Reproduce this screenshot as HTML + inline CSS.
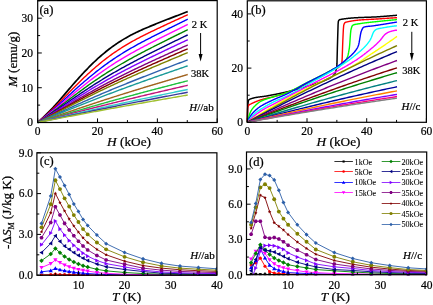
<!DOCTYPE html>
<html><head><meta charset="utf-8"><style>
html,body{margin:0;padding:0;background:#fff;}
svg{display:block;will-change:transform;}
text{font-family:"Liberation Serif", serif;fill:#000;stroke:#000;stroke-width:0.22px;}
</style></head><body>
<svg width="433" height="305" viewBox="0 0 433 305">
<rect x="0" y="0" width="433" height="305" fill="#fff"/>
<path d="M37.7,122.5 L38.96,121.33 L40.22,120.17 L41.48,118.99 L42.74,117.81 L44,116.62 L45.26,115.42 L46.53,114.2 L47.79,112.96 L49.05,111.7 L50.31,110.42 L51.57,109.12 L52.83,107.79 L54.09,106.42 L55.35,105.04 L56.61,103.62 L57.87,102.19 L59.13,100.74 L60.39,99.28 L61.65,97.8 L62.92,96.32 L64.18,94.83 L65.44,93.34 L66.7,91.86 L67.96,90.37 L69.22,88.9 L70.48,87.43 L71.74,85.97 L73,84.51 L74.26,83.07 L75.52,81.64 L76.78,80.22 L78.04,78.81 L79.31,77.41 L80.57,76.02 L81.83,74.65 L83.09,73.29 L84.35,71.94 L85.61,70.61 L86.87,69.3 L88.13,68 L89.39,66.71 L90.65,65.45 L91.91,64.2 L93.17,62.97 L94.43,61.76 L95.7,60.57 L96.96,59.39 L98.22,58.24 L99.48,57.11 L100.74,56 L102,54.91 L103.26,53.84 L104.52,52.78 L105.78,51.75 L107.04,50.74 L108.3,49.75 L109.56,48.78 L110.82,47.83 L112.09,46.9 L113.35,45.99 L114.61,45.1 L115.87,44.23 L117.13,43.38 L118.39,42.54 L119.65,41.72 L120.91,40.92 L122.17,40.14 L123.43,39.38 L124.69,38.63 L125.95,37.9 L127.21,37.18 L128.48,36.48 L129.74,35.8 L131,35.12 L132.26,34.47 L133.52,33.82 L134.78,33.19 L136.04,32.57 L137.3,31.97 L138.56,31.37 L139.82,30.78 L141.08,30.21 L142.34,29.64 L143.61,29.08 L144.87,28.53 L146.13,27.99 L147.39,27.45 L148.65,26.92 L149.91,26.39 L151.17,25.87 L152.43,25.36 L153.69,24.84 L154.95,24.34 L156.21,23.83 L157.47,23.32 L158.73,22.82 L160,22.32 L161.26,21.82 L162.52,21.32 L163.78,20.82 L165.04,20.32 L166.3,19.83 L167.56,19.33 L168.82,18.84 L170.08,18.35 L171.34,17.86 L172.6,17.37 L173.86,16.88 L175.12,16.4 L176.39,15.91 L177.65,15.43 L178.91,14.95 L180.17,14.47 L181.43,13.99 L182.69,13.51 L183.95,13.03 L185.21,12.55 L186.47,12.07 L187.73,11.59" fill="none" stroke="#000000" stroke-width="1.7000000000000002" stroke-linejoin="round" stroke-linecap="butt" />
<path d="M37.7,122.5 L38.96,121.42 L40.22,120.33 L41.48,119.24 L42.74,118.15 L44,117.04 L45.26,115.94 L46.53,114.81 L47.79,113.68 L49.05,112.54 L50.31,111.38 L51.57,110.2 L52.83,109 L54.09,107.78 L55.35,106.54 L56.61,105.29 L57.87,104.02 L59.13,102.74 L60.39,101.46 L61.65,100.16 L62.92,98.86 L64.18,97.55 L65.44,96.25 L66.7,94.94 L67.96,93.64 L69.22,92.35 L70.48,91.06 L71.74,89.77 L73,88.5 L74.26,87.22 L75.52,85.96 L76.78,84.7 L78.04,83.46 L79.31,82.22 L80.57,80.99 L81.83,79.77 L83.09,78.56 L84.35,77.35 L85.61,76.16 L86.87,74.99 L88.13,73.82 L89.39,72.66 L90.65,71.52 L91.91,70.39 L93.17,69.27 L94.43,68.16 L95.7,67.07 L96.96,65.99 L98.22,64.93 L99.48,63.88 L100.74,62.85 L102,61.83 L103.26,60.82 L104.52,59.83 L105.78,58.86 L107.04,57.9 L108.3,56.95 L109.56,56.02 L110.82,55.1 L112.09,54.19 L113.35,53.3 L114.61,52.42 L115.87,51.56 L117.13,50.71 L118.39,49.87 L119.65,49.05 L120.91,48.24 L122.17,47.44 L123.43,46.65 L124.69,45.88 L125.95,45.11 L127.21,44.36 L128.48,43.62 L129.74,42.89 L131,42.17 L132.26,41.46 L133.52,40.76 L134.78,40.07 L136.04,39.39 L137.3,38.72 L138.56,38.05 L139.82,37.39 L141.08,36.74 L142.34,36.1 L143.61,35.46 L144.87,34.83 L146.13,34.2 L147.39,33.58 L148.65,32.96 L149.91,32.34 L151.17,31.73 L152.43,31.13 L153.69,30.52 L154.95,29.92 L156.21,29.32 L157.47,28.72 L158.73,28.13 L160,27.53 L161.26,26.94 L162.52,26.35 L163.78,25.75 L165.04,25.16 L166.3,24.57 L167.56,23.98 L168.82,23.4 L170.08,22.81 L171.34,22.23 L172.6,21.64 L173.86,21.06 L175.12,20.48 L176.39,19.9 L177.65,19.32 L178.91,18.75 L180.17,18.17 L181.43,17.59 L182.69,17.02 L183.95,16.44 L185.21,15.87 L186.47,15.3 L187.73,14.72" fill="none" stroke="#ff0000" stroke-width="1.4000000000000001" stroke-linejoin="round" stroke-linecap="butt" />
<path d="M37.7,122.5 L38.96,121.49 L40.22,120.48 L41.48,119.46 L42.74,118.45 L44,117.42 L45.26,116.4 L46.53,115.36 L47.79,114.32 L49.05,113.26 L50.31,112.2 L51.57,111.12 L52.83,110.03 L54.09,108.92 L55.35,107.8 L56.61,106.67 L57.87,105.53 L59.13,104.38 L60.39,103.22 L61.65,102.06 L62.92,100.9 L64.18,99.73 L65.44,98.56 L66.7,97.39 L67.96,96.23 L69.22,95.07 L70.48,93.91 L71.74,92.76 L73,91.61 L74.26,90.47 L75.52,89.34 L76.78,88.21 L78.04,87.08 L79.31,85.97 L80.57,84.85 L81.83,83.75 L83.09,82.66 L84.35,81.57 L85.61,80.49 L86.87,79.41 L88.13,78.35 L89.39,77.3 L90.65,76.25 L91.91,75.21 L93.17,74.19 L94.43,73.17 L95.7,72.16 L96.96,71.17 L98.22,70.18 L99.48,69.21 L100.74,68.24 L102,67.29 L103.26,66.35 L104.52,65.42 L105.78,64.5 L107.04,63.59 L108.3,62.69 L109.56,61.8 L110.82,60.92 L112.09,60.05 L113.35,59.2 L114.61,58.35 L115.87,57.52 L117.13,56.69 L118.39,55.87 L119.65,55.07 L120.91,54.27 L122.17,53.48 L123.43,52.7 L124.69,51.93 L125.95,51.17 L127.21,50.42 L128.48,49.67 L129.74,48.94 L131,48.21 L132.26,47.49 L133.52,46.77 L134.78,46.07 L136.04,45.37 L137.3,44.67 L138.56,43.98 L139.82,43.3 L141.08,42.62 L142.34,41.95 L143.61,41.28 L144.87,40.62 L146.13,39.96 L147.39,39.31 L148.65,38.66 L149.91,38.01 L151.17,37.36 L152.43,36.72 L153.69,36.08 L154.95,35.44 L156.21,34.81 L157.47,34.17 L158.73,33.54 L160,32.9 L161.26,32.27 L162.52,31.64 L163.78,31.01 L165.04,30.38 L166.3,29.76 L167.56,29.13 L168.82,28.5 L170.08,27.88 L171.34,27.26 L172.6,26.63 L173.86,26.01 L175.12,25.39 L176.39,24.77 L177.65,24.16 L178.91,23.54 L180.17,22.92 L181.43,22.31 L182.69,21.69 L183.95,21.08 L185.21,20.47 L186.47,19.86 L187.73,19.24" fill="none" stroke="#0000ff" stroke-width="1.4000000000000001" stroke-linejoin="round" stroke-linecap="butt" />
<path d="M37.7,122.5 L38.96,121.56 L40.22,120.61 L41.48,119.67 L42.74,118.72 L44,117.76 L45.26,116.81 L46.53,115.85 L47.79,114.88 L49.05,113.9 L50.31,112.92 L51.57,111.92 L52.83,110.92 L54.09,109.9 L55.35,108.87 L56.61,107.84 L57.87,106.79 L59.13,105.75 L60.39,104.69 L61.65,103.63 L62.92,102.57 L64.18,101.51 L65.44,100.45 L66.7,99.38 L67.96,98.32 L69.22,97.27 L70.48,96.21 L71.74,95.16 L73,94.12 L74.26,93.08 L75.52,92.04 L76.78,91.01 L78.04,89.98 L79.31,88.96 L80.57,87.94 L81.83,86.93 L83.09,85.93 L84.35,84.93 L85.61,83.94 L86.87,82.95 L88.13,81.97 L89.39,81 L90.65,80.03 L91.91,79.08 L93.17,78.13 L94.43,77.18 L95.7,76.25 L96.96,75.33 L98.22,74.41 L99.48,73.5 L100.74,72.6 L102,71.71 L103.26,70.83 L104.52,69.95 L105.78,69.09 L107.04,68.23 L108.3,67.38 L109.56,66.54 L110.82,65.71 L112.09,64.88 L113.35,64.07 L114.61,63.26 L115.87,62.46 L117.13,61.67 L118.39,60.89 L119.65,60.11 L120.91,59.34 L122.17,58.58 L123.43,57.83 L124.69,57.08 L125.95,56.34 L127.21,55.61 L128.48,54.88 L129.74,54.16 L131,53.45 L132.26,52.74 L133.52,52.04 L134.78,51.34 L136.04,50.65 L137.3,49.97 L138.56,49.28 L139.82,48.61 L141.08,47.94 L142.34,47.27 L143.61,46.6 L144.87,45.94 L146.13,45.28 L147.39,44.63 L148.65,43.98 L149.91,43.33 L151.17,42.68 L152.43,42.04 L153.69,41.4 L154.95,40.76 L156.21,40.12 L157.47,39.48 L158.73,38.84 L160,38.21 L161.26,37.57 L162.52,36.94 L163.78,36.3 L165.04,35.67 L166.3,35.04 L167.56,34.41 L168.82,33.78 L170.08,33.15 L171.34,32.53 L172.6,31.9 L173.86,31.28 L175.12,30.65 L176.39,30.03 L177.65,29.41 L178.91,28.79 L180.17,28.17 L181.43,27.55 L182.69,26.93 L183.95,26.31 L185.21,25.69 L186.47,25.07 L187.73,24.46" fill="none" stroke="#ff00ff" stroke-width="1.4000000000000001" stroke-linejoin="round" stroke-linecap="butt" />
<path d="M37.7,122.5 L38.96,121.62 L40.22,120.74 L41.48,119.86 L42.74,118.98 L44,118.1 L45.26,117.21 L46.53,116.32 L47.79,115.42 L49.05,114.52 L50.31,113.61 L51.57,112.7 L52.83,111.78 L54.09,110.85 L55.35,109.91 L56.61,108.97 L57.87,108.02 L59.13,107.06 L60.39,106.11 L61.65,105.15 L62.92,104.18 L64.18,103.22 L65.44,102.26 L66.7,101.3 L67.96,100.34 L69.22,99.38 L70.48,98.42 L71.74,97.47 L73,96.52 L74.26,95.58 L75.52,94.64 L76.78,93.7 L78.04,92.76 L79.31,91.83 L80.57,90.91 L81.83,89.98 L83.09,89.07 L84.35,88.15 L85.61,87.25 L86.87,86.34 L88.13,85.44 L89.39,84.55 L90.65,83.66 L91.91,82.78 L93.17,81.91 L94.43,81.04 L95.7,80.17 L96.96,79.32 L98.22,78.47 L99.48,77.62 L100.74,76.78 L102,75.95 L103.26,75.13 L104.52,74.31 L105.78,73.5 L107.04,72.69 L108.3,71.89 L109.56,71.1 L110.82,70.31 L112.09,69.53 L113.35,68.76 L114.61,67.99 L115.87,67.23 L117.13,66.48 L118.39,65.73 L119.65,64.98 L120.91,64.24 L122.17,63.51 L123.43,62.78 L124.69,62.06 L125.95,61.35 L127.21,60.64 L128.48,59.93 L129.74,59.23 L131,58.53 L132.26,57.84 L133.52,57.15 L134.78,56.47 L136.04,55.79 L137.3,55.11 L138.56,54.44 L139.82,53.78 L141.08,53.11 L142.34,52.45 L143.61,51.79 L144.87,51.13 L146.13,50.48 L147.39,49.83 L148.65,49.18 L149.91,48.54 L151.17,47.89 L152.43,47.25 L153.69,46.61 L154.95,45.97 L156.21,45.33 L157.47,44.7 L158.73,44.06 L160,43.42 L161.26,42.79 L162.52,42.16 L163.78,41.52 L165.04,40.89 L166.3,40.26 L167.56,39.63 L168.82,39 L170.08,38.37 L171.34,37.75 L172.6,37.12 L173.86,36.5 L175.12,35.87 L176.39,35.25 L177.65,34.63 L178.91,34 L180.17,33.38 L181.43,32.76 L182.69,32.14 L183.95,31.53 L185.21,30.91 L186.47,30.29 L187.73,29.67" fill="none" stroke="#008000" stroke-width="1.4000000000000001" stroke-linejoin="round" stroke-linecap="butt" />
<path d="M37.7,122.5 L38.96,121.68 L40.22,120.86 L41.48,120.05 L42.74,119.23 L44,118.4 L45.26,117.58 L46.53,116.75 L47.79,115.92 L49.05,115.09 L50.31,114.25 L51.57,113.41 L52.83,112.56 L54.09,111.71 L55.35,110.85 L56.61,109.99 L57.87,109.12 L59.13,108.25 L60.39,107.38 L61.65,106.51 L62.92,105.63 L64.18,104.75 L65.44,103.88 L66.7,103 L67.96,102.13 L69.22,101.26 L70.48,100.39 L71.74,99.52 L73,98.66 L74.26,97.8 L75.52,96.94 L76.78,96.08 L78.04,95.23 L79.31,94.38 L80.57,93.53 L81.83,92.69 L83.09,91.85 L84.35,91.01 L85.61,90.18 L86.87,89.35 L88.13,88.52 L89.39,87.7 L90.65,86.88 L91.91,86.07 L93.17,85.26 L94.43,84.46 L95.7,83.66 L96.96,82.86 L98.22,82.07 L99.48,81.29 L100.74,80.51 L102,79.73 L103.26,78.96 L104.52,78.2 L105.78,77.44 L107.04,76.68 L108.3,75.93 L109.56,75.18 L110.82,74.44 L112.09,73.71 L113.35,72.98 L114.61,72.25 L115.87,71.53 L117.13,70.81 L118.39,70.09 L119.65,69.39 L120.91,68.68 L122.17,67.98 L123.43,67.28 L124.69,66.59 L125.95,65.9 L127.21,65.22 L128.48,64.54 L129.74,63.86 L131,63.19 L132.26,62.52 L133.52,61.85 L134.78,61.19 L136.04,60.53 L137.3,59.87 L138.56,59.22 L139.82,58.57 L141.08,57.92 L142.34,57.28 L143.61,56.63 L144.87,55.99 L146.13,55.35 L147.39,54.71 L148.65,54.08 L149.91,53.44 L151.17,52.81 L152.43,52.18 L153.69,51.55 L154.95,50.92 L156.21,50.3 L157.47,49.67 L158.73,49.05 L160,48.42 L161.26,47.8 L162.52,47.17 L163.78,46.55 L165.04,45.93 L166.3,45.31 L167.56,44.69 L168.82,44.07 L170.08,43.45 L171.34,42.84 L172.6,42.22 L173.86,41.61 L175.12,40.99 L176.39,40.38 L177.65,39.77 L178.91,39.15 L180.17,38.54 L181.43,37.93 L182.69,37.32 L183.95,36.71 L185.21,36.1 L186.47,35.5 L187.73,34.89" fill="none" stroke="#000080" stroke-width="1.4000000000000001" stroke-linejoin="round" stroke-linecap="butt" />
<path d="M37.7,122.5 L38.96,121.73 L40.22,120.97 L41.48,120.2 L42.74,119.44 L44,118.67 L45.26,117.9 L46.53,117.13 L47.79,116.35 L49.05,115.58 L50.31,114.8 L51.57,114.01 L52.83,113.23 L54.09,112.43 L55.35,111.64 L56.61,110.84 L57.87,110.04 L59.13,109.23 L60.39,108.43 L61.65,107.62 L62.92,106.81 L64.18,106.01 L65.44,105.2 L66.7,104.39 L67.96,103.59 L69.22,102.78 L70.48,101.98 L71.74,101.18 L73,100.38 L74.26,99.59 L75.52,98.79 L76.78,98 L78.04,97.21 L79.31,96.42 L80.57,95.64 L81.83,94.86 L83.09,94.08 L84.35,93.3 L85.61,92.53 L86.87,91.76 L88.13,91 L89.39,90.23 L90.65,89.47 L91.91,88.72 L93.17,87.96 L94.43,87.21 L95.7,86.47 L96.96,85.73 L98.22,84.99 L99.48,84.25 L100.74,83.52 L102,82.8 L103.26,82.07 L104.52,81.36 L105.78,80.64 L107.04,79.93 L108.3,79.22 L109.56,78.52 L110.82,77.82 L112.09,77.12 L113.35,76.43 L114.61,75.74 L115.87,75.06 L117.13,74.38 L118.39,73.7 L119.65,73.03 L120.91,72.36 L122.17,71.69 L123.43,71.03 L124.69,70.37 L125.95,69.71 L127.21,69.06 L128.48,68.41 L129.74,67.76 L131,67.11 L132.26,66.47 L133.52,65.83 L134.78,65.2 L136.04,64.56 L137.3,63.93 L138.56,63.3 L139.82,62.67 L141.08,62.05 L142.34,61.43 L143.61,60.8 L144.87,60.19 L146.13,59.57 L147.39,58.95 L148.65,58.34 L149.91,57.73 L151.17,57.11 L152.43,56.5 L153.69,55.89 L154.95,55.29 L156.21,54.68 L157.47,54.07 L158.73,53.47 L160,52.86 L161.26,52.26 L162.52,51.66 L163.78,51.05 L165.04,50.45 L166.3,49.85 L167.56,49.25 L168.82,48.65 L170.08,48.06 L171.34,47.46 L172.6,46.86 L173.86,46.26 L175.12,45.67 L176.39,45.07 L177.65,44.48 L178.91,43.89 L180.17,43.3 L181.43,42.7 L182.69,42.11 L183.95,41.52 L185.21,40.93 L186.47,40.34 L187.73,39.76" fill="none" stroke="#8000ff" stroke-width="1.4000000000000001" stroke-linejoin="round" stroke-linecap="butt" />
<path d="M37.7,122.5 L38.96,121.79 L40.22,121.07 L41.48,120.36 L42.74,119.65 L44,118.94 L45.26,118.22 L46.53,117.5 L47.79,116.79 L49.05,116.07 L50.31,115.34 L51.57,114.62 L52.83,113.89 L54.09,113.16 L55.35,112.43 L56.61,111.69 L57.87,110.95 L59.13,110.21 L60.39,109.47 L61.65,108.73 L62.92,107.99 L64.18,107.25 L65.44,106.5 L66.7,105.76 L67.96,105.02 L69.22,104.28 L70.48,103.55 L71.74,102.81 L73,102.08 L74.26,101.34 L75.52,100.61 L76.78,99.88 L78.04,99.16 L79.31,98.43 L80.57,97.71 L81.83,96.99 L83.09,96.27 L84.35,95.55 L85.61,94.84 L86.87,94.13 L88.13,93.42 L89.39,92.72 L90.65,92.01 L91.91,91.31 L93.17,90.61 L94.43,89.92 L95.7,89.23 L96.96,88.54 L98.22,87.85 L99.48,87.17 L100.74,86.49 L102,85.81 L103.26,85.14 L104.52,84.47 L105.78,83.8 L107.04,83.14 L108.3,82.48 L109.56,81.82 L110.82,81.17 L112.09,80.51 L113.35,79.87 L114.61,79.22 L115.87,78.58 L117.13,77.94 L118.39,77.3 L119.65,76.66 L120.91,76.03 L122.17,75.4 L123.43,74.78 L124.69,74.15 L125.95,73.53 L127.21,72.92 L128.48,72.3 L129.74,71.69 L131,71.07 L132.26,70.47 L133.52,69.86 L134.78,69.25 L136.04,68.65 L137.3,68.05 L138.56,67.45 L139.82,66.86 L141.08,66.26 L142.34,65.67 L143.61,65.08 L144.87,64.49 L146.13,63.9 L147.39,63.31 L148.65,62.73 L149.91,62.14 L151.17,61.56 L152.43,60.97 L153.69,60.39 L154.95,59.81 L156.21,59.23 L157.47,58.65 L158.73,58.08 L160,57.5 L161.26,56.92 L162.52,56.35 L163.78,55.77 L165.04,55.2 L166.3,54.62 L167.56,54.05 L168.82,53.48 L170.08,52.9 L171.34,52.33 L172.6,51.76 L173.86,51.19 L175.12,50.62 L176.39,50.06 L177.65,49.49 L178.91,48.92 L180.17,48.35 L181.43,47.79 L182.69,47.22 L183.95,46.66 L185.21,46.1 L186.47,45.53 L187.73,44.97" fill="none" stroke="#800080" stroke-width="1.4000000000000001" stroke-linejoin="round" stroke-linecap="butt" />
<path d="M37.7,122.5 L38.96,121.83 L40.22,121.15 L41.48,120.48 L42.74,119.8 L44,119.13 L45.26,118.46 L46.53,117.78 L47.79,117.1 L49.05,116.42 L50.31,115.74 L51.57,115.06 L52.83,114.37 L54.09,113.69 L55.35,113 L56.61,112.31 L57.87,111.61 L59.13,110.92 L60.39,110.23 L61.65,109.53 L62.92,108.84 L64.18,108.14 L65.44,107.44 L66.7,106.75 L67.96,106.06 L69.22,105.36 L70.48,104.67 L71.74,103.98 L73,103.3 L74.26,102.61 L75.52,101.92 L76.78,101.24 L78.04,100.56 L79.31,99.88 L80.57,99.2 L81.83,98.52 L83.09,97.85 L84.35,97.18 L85.61,96.5 L86.87,95.84 L88.13,95.17 L89.39,94.5 L90.65,93.84 L91.91,93.18 L93.17,92.53 L94.43,91.87 L95.7,91.22 L96.96,90.57 L98.22,89.92 L99.48,89.27 L100.74,88.63 L102,87.99 L103.26,87.35 L104.52,86.72 L105.78,86.09 L107.04,85.46 L108.3,84.83 L109.56,84.2 L110.82,83.58 L112.09,82.96 L113.35,82.35 L114.61,81.73 L115.87,81.12 L117.13,80.51 L118.39,79.9 L119.65,79.3 L120.91,78.69 L122.17,78.09 L123.43,77.49 L124.69,76.9 L125.95,76.3 L127.21,75.71 L128.48,75.12 L129.74,74.53 L131,73.95 L132.26,73.36 L133.52,72.78 L134.78,72.2 L136.04,71.62 L137.3,71.05 L138.56,70.47 L139.82,69.9 L141.08,69.32 L142.34,68.75 L143.61,68.18 L144.87,67.62 L146.13,67.05 L147.39,66.48 L148.65,65.92 L149.91,65.36 L151.17,64.79 L152.43,64.23 L153.69,63.67 L154.95,63.11 L156.21,62.55 L157.47,61.99 L158.73,61.44 L160,60.88 L161.26,60.32 L162.52,59.77 L163.78,59.21 L165.04,58.66 L166.3,58.11 L167.56,57.55 L168.82,57 L170.08,56.45 L171.34,55.9 L172.6,55.35 L173.86,54.8 L175.12,54.25 L176.39,53.7 L177.65,53.15 L178.91,52.61 L180.17,52.06 L181.43,51.51 L182.69,50.97 L183.95,50.42 L185.21,49.88 L186.47,49.34 L187.73,48.79" fill="none" stroke="#800000" stroke-width="1.4000000000000001" stroke-linejoin="round" stroke-linecap="butt" />
<path d="M37.7,122.5 L38.96,121.86 L40.22,121.23 L41.48,120.59 L42.74,119.96 L44,119.32 L45.26,118.69 L46.53,118.05 L47.79,117.41 L49.05,116.77 L50.31,116.14 L51.57,115.49 L52.83,114.85 L54.09,114.21 L55.35,113.56 L56.61,112.91 L57.87,112.27 L59.13,111.62 L60.39,110.97 L61.65,110.32 L62.92,109.67 L64.18,109.02 L65.44,108.37 L66.7,107.72 L67.96,107.07 L69.22,106.43 L70.48,105.78 L71.74,105.14 L73,104.49 L74.26,103.85 L75.52,103.21 L76.78,102.57 L78.04,101.93 L79.31,101.3 L80.57,100.66 L81.83,100.03 L83.09,99.4 L84.35,98.77 L85.61,98.14 L86.87,97.51 L88.13,96.88 L89.39,96.26 L90.65,95.64 L91.91,95.02 L93.17,94.4 L94.43,93.79 L95.7,93.17 L96.96,92.56 L98.22,91.95 L99.48,91.34 L100.74,90.73 L102,90.13 L103.26,89.53 L104.52,88.93 L105.78,88.33 L107.04,87.74 L108.3,87.14 L109.56,86.55 L110.82,85.96 L112.09,85.37 L113.35,84.79 L114.61,84.2 L115.87,83.62 L117.13,83.04 L118.39,82.46 L119.65,81.89 L120.91,81.31 L122.17,80.74 L123.43,80.17 L124.69,79.6 L125.95,79.04 L127.21,78.47 L128.48,77.91 L129.74,77.35 L131,76.79 L132.26,76.23 L133.52,75.67 L134.78,75.11 L136.04,74.56 L137.3,74.01 L138.56,73.46 L139.82,72.91 L141.08,72.36 L142.34,71.81 L143.61,71.26 L144.87,70.72 L146.13,70.17 L147.39,69.63 L148.65,69.09 L149.91,68.55 L151.17,68 L152.43,67.47 L153.69,66.93 L154.95,66.39 L156.21,65.85 L157.47,65.31 L158.73,64.78 L160,64.24 L161.26,63.71 L162.52,63.17 L163.78,62.64 L165.04,62.11 L166.3,61.57 L167.56,61.04 L168.82,60.51 L170.08,59.98 L171.34,59.45 L172.6,58.92 L173.86,58.39 L175.12,57.87 L176.39,57.34 L177.65,56.81 L178.91,56.29 L180.17,55.76 L181.43,55.24 L182.69,54.71 L183.95,54.19 L185.21,53.66 L186.47,53.14 L187.73,52.62" fill="none" stroke="#808000" stroke-width="1.4000000000000001" stroke-linejoin="round" stroke-linecap="butt" />
<path d="M37.7,122.5 L38.96,121.93 L40.22,121.37 L41.48,120.8 L42.74,120.23 L44,119.67 L45.26,119.1 L46.53,118.53 L47.79,117.96 L49.05,117.39 L50.31,116.83 L51.57,116.26 L52.83,115.68 L54.09,115.11 L55.35,114.54 L56.61,113.96 L57.87,113.39 L59.13,112.81 L60.39,112.24 L61.65,111.66 L62.92,111.08 L64.18,110.51 L65.44,109.93 L66.7,109.36 L67.96,108.78 L69.22,108.21 L70.48,107.64 L71.74,107.07 L73,106.5 L74.26,105.93 L75.52,105.36 L76.78,104.79 L78.04,104.22 L79.31,103.66 L80.57,103.1 L81.83,102.53 L83.09,101.97 L84.35,101.41 L85.61,100.85 L86.87,100.29 L88.13,99.74 L89.39,99.18 L90.65,98.63 L91.91,98.08 L93.17,97.53 L94.43,96.98 L95.7,96.43 L96.96,95.89 L98.22,95.34 L99.48,94.8 L100.74,94.26 L102,93.72 L103.26,93.18 L104.52,92.65 L105.78,92.11 L107.04,91.58 L108.3,91.05 L109.56,90.52 L110.82,89.99 L112.09,89.47 L113.35,88.94 L114.61,88.42 L115.87,87.9 L117.13,87.38 L118.39,86.86 L119.65,86.34 L120.91,85.82 L122.17,85.31 L123.43,84.8 L124.69,84.29 L125.95,83.78 L127.21,83.27 L128.48,82.76 L129.74,82.26 L131,81.75 L132.26,81.25 L133.52,80.75 L134.78,80.25 L136.04,79.75 L137.3,79.25 L138.56,78.75 L139.82,78.25 L141.08,77.76 L142.34,77.26 L143.61,76.77 L144.87,76.28 L146.13,75.79 L147.39,75.3 L148.65,74.81 L149.91,74.32 L151.17,73.83 L152.43,73.34 L153.69,72.85 L154.95,72.37 L156.21,71.88 L157.47,71.4 L158.73,70.91 L160,70.43 L161.26,69.94 L162.52,69.46 L163.78,68.98 L165.04,68.5 L166.3,68.02 L167.56,67.54 L168.82,67.06 L170.08,66.58 L171.34,66.1 L172.6,65.62 L173.86,65.14 L175.12,64.66 L176.39,64.19 L177.65,63.71 L178.91,63.24 L180.17,62.76 L181.43,62.29 L182.69,61.81 L183.95,61.34 L185.21,60.86 L186.47,60.39 L187.73,59.92" fill="none" stroke="#2f62ad" stroke-width="1.4000000000000001" stroke-linejoin="round" stroke-linecap="butt" />
<path d="M37.7,122.5 L38.96,121.99 L40.22,121.48 L41.48,120.97 L42.74,120.45 L44,119.94 L45.26,119.43 L46.53,118.92 L47.79,118.41 L49.05,117.9 L50.31,117.38 L51.57,116.87 L52.83,116.36 L54.09,115.84 L55.35,115.33 L56.61,114.81 L57.87,114.3 L59.13,113.78 L60.39,113.26 L61.65,112.75 L62.92,112.23 L64.18,111.71 L65.44,111.2 L66.7,110.68 L67.96,110.17 L69.22,109.65 L70.48,109.14 L71.74,108.63 L73,108.12 L74.26,107.61 L75.52,107.1 L76.78,106.59 L78.04,106.08 L79.31,105.57 L80.57,105.07 L81.83,104.56 L83.09,104.06 L84.35,103.55 L85.61,103.05 L86.87,102.55 L88.13,102.05 L89.39,101.55 L90.65,101.05 L91.91,100.56 L93.17,100.06 L94.43,99.57 L95.7,99.07 L96.96,98.58 L98.22,98.09 L99.48,97.6 L100.74,97.11 L102,96.63 L103.26,96.14 L104.52,95.66 L105.78,95.17 L107.04,94.69 L108.3,94.21 L109.56,93.73 L110.82,93.26 L112.09,92.78 L113.35,92.3 L114.61,91.83 L115.87,91.36 L117.13,90.88 L118.39,90.41 L119.65,89.94 L120.91,89.48 L122.17,89.01 L123.43,88.54 L124.69,88.08 L125.95,87.62 L127.21,87.15 L128.48,86.69 L129.74,86.23 L131,85.77 L132.26,85.31 L133.52,84.86 L134.78,84.4 L136.04,83.94 L137.3,83.49 L138.56,83.04 L139.82,82.58 L141.08,82.13 L142.34,81.68 L143.61,81.23 L144.87,80.78 L146.13,80.33 L147.39,79.88 L148.65,79.44 L149.91,78.99 L151.17,78.54 L152.43,78.1 L153.69,77.65 L154.95,77.21 L156.21,76.76 L157.47,76.32 L158.73,75.88 L160,75.44 L161.26,74.99 L162.52,74.55 L163.78,74.11 L165.04,73.67 L166.3,73.23 L167.56,72.79 L168.82,72.35 L170.08,71.92 L171.34,71.48 L172.6,71.04 L173.86,70.6 L175.12,70.17 L176.39,69.73 L177.65,69.3 L178.91,68.86 L180.17,68.43 L181.43,67.99 L182.69,67.56 L183.95,67.13 L185.21,66.69 L186.47,66.26 L187.73,65.83" fill="none" stroke="#1a9a98" stroke-width="1.4000000000000001" stroke-linejoin="round" stroke-linecap="butt" />
<path d="M37.7,122.5 L38.96,122.07 L40.22,121.64 L41.48,121.21 L42.74,120.77 L44,120.34 L45.26,119.91 L46.53,119.48 L47.79,119.05 L49.05,118.62 L50.31,118.19 L51.57,117.76 L52.83,117.32 L54.09,116.89 L55.35,116.46 L56.61,116.03 L57.87,115.59 L59.13,115.16 L60.39,114.73 L61.65,114.3 L62.92,113.86 L64.18,113.43 L65.44,113 L66.7,112.57 L67.96,112.13 L69.22,111.7 L70.48,111.27 L71.74,110.84 L73,110.42 L74.26,109.99 L75.52,109.56 L76.78,109.13 L78.04,108.71 L79.31,108.28 L80.57,107.86 L81.83,107.43 L83.09,107.01 L84.35,106.59 L85.61,106.16 L86.87,105.74 L88.13,105.32 L89.39,104.9 L90.65,104.48 L91.91,104.07 L93.17,103.65 L94.43,103.23 L95.7,102.82 L96.96,102.4 L98.22,101.99 L99.48,101.58 L100.74,101.17 L102,100.75 L103.26,100.34 L104.52,99.94 L105.78,99.53 L107.04,99.12 L108.3,98.71 L109.56,98.31 L110.82,97.9 L112.09,97.5 L113.35,97.1 L114.61,96.7 L115.87,96.3 L117.13,95.9 L118.39,95.5 L119.65,95.1 L120.91,94.7 L122.17,94.3 L123.43,93.91 L124.69,93.51 L125.95,93.12 L127.21,92.73 L128.48,92.33 L129.74,91.94 L131,91.55 L132.26,91.16 L133.52,90.77 L134.78,90.38 L136.04,89.99 L137.3,89.61 L138.56,89.22 L139.82,88.83 L141.08,88.45 L142.34,88.06 L143.61,87.68 L144.87,87.29 L146.13,86.91 L147.39,86.53 L148.65,86.15 L149.91,85.77 L151.17,85.38 L152.43,85 L153.69,84.62 L154.95,84.24 L156.21,83.87 L157.47,83.49 L158.73,83.11 L160,82.73 L161.26,82.35 L162.52,81.98 L163.78,81.6 L165.04,81.22 L166.3,80.85 L167.56,80.47 L168.82,80.1 L170.08,79.72 L171.34,79.35 L172.6,78.97 L173.86,78.6 L175.12,78.23 L176.39,77.86 L177.65,77.48 L178.91,77.11 L180.17,76.74 L181.43,76.37 L182.69,76 L183.95,75.63 L185.21,75.26 L186.47,74.89 L187.73,74.52" fill="none" stroke="#a0621e" stroke-width="1.4000000000000001" stroke-linejoin="round" stroke-linecap="butt" />
<path d="M37.7,122.5 L38.96,122.13 L40.22,121.75 L41.48,121.38 L42.74,121 L44,120.63 L45.26,120.25 L46.53,119.88 L47.79,119.51 L49.05,119.13 L50.31,118.76 L51.57,118.39 L52.83,118.01 L54.09,117.64 L55.35,117.26 L56.61,116.89 L57.87,116.51 L59.13,116.14 L60.39,115.76 L61.65,115.39 L62.92,115.01 L64.18,114.64 L65.44,114.27 L66.7,113.89 L67.96,113.52 L69.22,113.15 L70.48,112.77 L71.74,112.4 L73,112.03 L74.26,111.66 L75.52,111.29 L76.78,110.92 L78.04,110.55 L79.31,110.18 L80.57,109.82 L81.83,109.45 L83.09,109.08 L84.35,108.72 L85.61,108.35 L86.87,107.99 L88.13,107.62 L89.39,107.26 L90.65,106.9 L91.91,106.53 L93.17,106.17 L94.43,105.81 L95.7,105.45 L96.96,105.09 L98.22,104.73 L99.48,104.37 L100.74,104.02 L102,103.66 L103.26,103.3 L104.52,102.95 L105.78,102.59 L107.04,102.24 L108.3,101.89 L109.56,101.54 L110.82,101.18 L112.09,100.83 L113.35,100.48 L114.61,100.13 L115.87,99.78 L117.13,99.44 L118.39,99.09 L119.65,98.74 L120.91,98.4 L122.17,98.05 L123.43,97.71 L124.69,97.36 L125.95,97.02 L127.21,96.68 L128.48,96.33 L129.74,95.99 L131,95.65 L132.26,95.31 L133.52,94.97 L134.78,94.63 L136.04,94.29 L137.3,93.95 L138.56,93.62 L139.82,93.28 L141.08,92.94 L142.34,92.61 L143.61,92.27 L144.87,91.94 L146.13,91.6 L147.39,91.27 L148.65,90.93 L149.91,90.6 L151.17,90.27 L152.43,89.94 L153.69,89.6 L154.95,89.27 L156.21,88.94 L157.47,88.61 L158.73,88.28 L160,87.95 L161.26,87.62 L162.52,87.29 L163.78,86.96 L165.04,86.63 L166.3,86.31 L167.56,85.98 L168.82,85.65 L170.08,85.32 L171.34,85 L172.6,84.67 L173.86,84.34 L175.12,84.02 L176.39,83.69 L177.65,83.37 L178.91,83.04 L180.17,82.72 L181.43,82.39 L182.69,82.07 L183.95,81.75 L185.21,81.42 L186.47,81.1 L187.73,80.78" fill="none" stroke="#20c040" stroke-width="1.4000000000000001" stroke-linejoin="round" stroke-linecap="butt" />
<path d="M37.7,122.5 L38.96,122.17 L40.22,121.83 L41.48,121.5 L42.74,121.17 L44,120.83 L45.26,120.5 L46.53,120.17 L47.79,119.84 L49.05,119.5 L50.31,119.17 L51.57,118.84 L52.83,118.51 L54.09,118.17 L55.35,117.84 L56.61,117.51 L57.87,117.18 L59.13,116.84 L60.39,116.51 L61.65,116.18 L62.92,115.85 L64.18,115.52 L65.44,115.18 L66.7,114.85 L67.96,114.52 L69.22,114.19 L70.48,113.86 L71.74,113.53 L73,113.2 L74.26,112.87 L75.52,112.54 L76.78,112.22 L78.04,111.89 L79.31,111.56 L80.57,111.24 L81.83,110.91 L83.09,110.58 L84.35,110.26 L85.61,109.93 L86.87,109.61 L88.13,109.29 L89.39,108.96 L90.65,108.64 L91.91,108.32 L93.17,108 L94.43,107.68 L95.7,107.36 L96.96,107.04 L98.22,106.72 L99.48,106.4 L100.74,106.08 L102,105.76 L103.26,105.45 L104.52,105.13 L105.78,104.81 L107.04,104.5 L108.3,104.18 L109.56,103.87 L110.82,103.56 L112.09,103.24 L113.35,102.93 L114.61,102.62 L115.87,102.31 L117.13,102 L118.39,101.69 L119.65,101.38 L120.91,101.07 L122.17,100.76 L123.43,100.45 L124.69,100.15 L125.95,99.84 L127.21,99.53 L128.48,99.23 L129.74,98.92 L131,98.62 L132.26,98.31 L133.52,98.01 L134.78,97.7 L136.04,97.4 L137.3,97.1 L138.56,96.8 L139.82,96.5 L141.08,96.19 L142.34,95.89 L143.61,95.59 L144.87,95.29 L146.13,94.99 L147.39,94.69 L148.65,94.4 L149.91,94.1 L151.17,93.8 L152.43,93.5 L153.69,93.2 L154.95,92.91 L156.21,92.61 L157.47,92.31 L158.73,92.02 L160,91.72 L161.26,91.43 L162.52,91.13 L163.78,90.84 L165.04,90.54 L166.3,90.25 L167.56,89.96 L168.82,89.66 L170.08,89.37 L171.34,89.08 L172.6,88.78 L173.86,88.49 L175.12,88.2 L176.39,87.91 L177.65,87.62 L178.91,87.33 L180.17,87.04 L181.43,86.75 L182.69,86.46 L183.95,86.17 L185.21,85.88 L186.47,85.59 L187.73,85.3" fill="none" stroke="#c0147a" stroke-width="1.4000000000000001" stroke-linejoin="round" stroke-linecap="butt" />
<path d="M37.7,122.5 L38.96,122.2 L40.22,121.91 L41.48,121.61 L42.74,121.32 L44,121.02 L45.26,120.73 L46.53,120.43 L47.79,120.14 L49.05,119.85 L50.31,119.55 L51.57,119.26 L52.83,118.96 L54.09,118.67 L55.35,118.38 L56.61,118.08 L57.87,117.79 L59.13,117.49 L60.39,117.2 L61.65,116.91 L62.92,116.61 L64.18,116.32 L65.44,116.03 L66.7,115.73 L67.96,115.44 L69.22,115.15 L70.48,114.86 L71.74,114.57 L73,114.28 L74.26,113.99 L75.52,113.7 L76.78,113.41 L78.04,113.12 L79.31,112.83 L80.57,112.54 L81.83,112.25 L83.09,111.96 L84.35,111.68 L85.61,111.39 L86.87,111.1 L88.13,110.82 L89.39,110.53 L90.65,110.24 L91.91,109.96 L93.17,109.67 L94.43,109.39 L95.7,109.11 L96.96,108.82 L98.22,108.54 L99.48,108.26 L100.74,107.98 L102,107.69 L103.26,107.41 L104.52,107.13 L105.78,106.85 L107.04,106.57 L108.3,106.29 L109.56,106.02 L110.82,105.74 L112.09,105.46 L113.35,105.18 L114.61,104.91 L115.87,104.63 L117.13,104.35 L118.39,104.08 L119.65,103.8 L120.91,103.53 L122.17,103.25 L123.43,102.98 L124.69,102.71 L125.95,102.43 L127.21,102.16 L128.48,101.89 L129.74,101.62 L131,101.34 L132.26,101.07 L133.52,100.8 L134.78,100.53 L136.04,100.26 L137.3,99.99 L138.56,99.72 L139.82,99.46 L141.08,99.19 L142.34,98.92 L143.61,98.65 L144.87,98.38 L146.13,98.12 L147.39,97.85 L148.65,97.58 L149.91,97.32 L151.17,97.05 L152.43,96.79 L153.69,96.52 L154.95,96.26 L156.21,95.99 L157.47,95.73 L158.73,95.46 L160,95.2 L161.26,94.94 L162.52,94.67 L163.78,94.41 L165.04,94.15 L166.3,93.89 L167.56,93.62 L168.82,93.36 L170.08,93.1 L171.34,92.84 L172.6,92.58 L173.86,92.32 L175.12,92.06 L176.39,91.8 L177.65,91.54 L178.91,91.28 L180.17,91.02 L181.43,90.76 L182.69,90.5 L183.95,90.24 L185.21,89.99 L186.47,89.73 L187.73,89.47" fill="none" stroke="#33cccc" stroke-width="1.4000000000000001" stroke-linejoin="round" stroke-linecap="butt" />
<path d="M37.7,122.5 L38.96,122.23 L40.22,121.96 L41.48,121.69 L42.74,121.42 L44,121.15 L45.26,120.88 L46.53,120.61 L47.79,120.34 L49.05,120.07 L50.31,119.81 L51.57,119.54 L52.83,119.27 L54.09,119 L55.35,118.73 L56.61,118.46 L57.87,118.2 L59.13,117.93 L60.39,117.66 L61.65,117.39 L62.92,117.13 L64.18,116.86 L65.44,116.59 L66.7,116.33 L67.96,116.06 L69.22,115.79 L70.48,115.53 L71.74,115.26 L73,115 L74.26,114.73 L75.52,114.47 L76.78,114.2 L78.04,113.94 L79.31,113.68 L80.57,113.41 L81.83,113.15 L83.09,112.89 L84.35,112.63 L85.61,112.36 L86.87,112.1 L88.13,111.84 L89.39,111.58 L90.65,111.32 L91.91,111.06 L93.17,110.8 L94.43,110.54 L95.7,110.28 L96.96,110.02 L98.22,109.77 L99.48,109.51 L100.74,109.25 L102,108.99 L103.26,108.74 L104.52,108.48 L105.78,108.22 L107.04,107.97 L108.3,107.71 L109.56,107.46 L110.82,107.2 L112.09,106.95 L113.35,106.69 L114.61,106.44 L115.87,106.19 L117.13,105.93 L118.39,105.68 L119.65,105.43 L120.91,105.18 L122.17,104.92 L123.43,104.67 L124.69,104.42 L125.95,104.17 L127.21,103.92 L128.48,103.67 L129.74,103.42 L131,103.17 L132.26,102.92 L133.52,102.67 L134.78,102.43 L136.04,102.18 L137.3,101.93 L138.56,101.68 L139.82,101.44 L141.08,101.19 L142.34,100.94 L143.61,100.7 L144.87,100.45 L146.13,100.21 L147.39,99.96 L148.65,99.72 L149.91,99.47 L151.17,99.23 L152.43,98.98 L153.69,98.74 L154.95,98.5 L156.21,98.25 L157.47,98.01 L158.73,97.77 L160,97.52 L161.26,97.28 L162.52,97.04 L163.78,96.8 L165.04,96.56 L166.3,96.31 L167.56,96.07 L168.82,95.83 L170.08,95.59 L171.34,95.35 L172.6,95.11 L173.86,94.87 L175.12,94.63 L176.39,94.39 L177.65,94.16 L178.91,93.92 L180.17,93.68 L181.43,93.44 L182.69,93.2 L183.95,92.96 L185.21,92.73 L186.47,92.49 L187.73,92.25" fill="none" stroke="#3a3a9c" stroke-width="1.4000000000000001" stroke-linejoin="round" stroke-linecap="butt" />
<path d="M37.7,122.5 L38.96,122.26 L40.22,122.01 L41.48,121.77 L42.74,121.52 L44,121.28 L45.26,121.03 L46.53,120.79 L47.79,120.55 L49.05,120.3 L50.31,120.06 L51.57,119.82 L52.83,119.57 L54.09,119.33 L55.35,119.09 L56.61,118.85 L57.87,118.6 L59.13,118.36 L60.39,118.12 L61.65,117.88 L62.92,117.64 L64.18,117.4 L65.44,117.16 L66.7,116.91 L67.96,116.67 L69.22,116.43 L70.48,116.19 L71.74,115.95 L73,115.71 L74.26,115.48 L75.52,115.24 L76.78,115 L78.04,114.76 L79.31,114.52 L80.57,114.28 L81.83,114.05 L83.09,113.81 L84.35,113.57 L85.61,113.33 L86.87,113.1 L88.13,112.86 L89.39,112.63 L90.65,112.39 L91.91,112.15 L93.17,111.92 L94.43,111.68 L95.7,111.45 L96.96,111.21 L98.22,110.98 L99.48,110.75 L100.74,110.51 L102,110.28 L103.26,110.05 L104.52,109.81 L105.78,109.58 L107.04,109.35 L108.3,109.12 L109.56,108.89 L110.82,108.65 L112.09,108.42 L113.35,108.19 L114.61,107.96 L115.87,107.73 L117.13,107.5 L118.39,107.27 L119.65,107.04 L120.91,106.81 L122.17,106.59 L123.43,106.36 L124.69,106.13 L125.95,105.9 L127.21,105.67 L128.48,105.45 L129.74,105.22 L131,104.99 L132.26,104.76 L133.52,104.54 L134.78,104.31 L136.04,104.09 L137.3,103.86 L138.56,103.64 L139.82,103.41 L141.08,103.19 L142.34,102.96 L143.61,102.74 L144.87,102.51 L146.13,102.29 L147.39,102.06 L148.65,101.84 L149.91,101.62 L151.17,101.4 L152.43,101.17 L153.69,100.95 L154.95,100.73 L156.21,100.51 L157.47,100.28 L158.73,100.06 L160,99.84 L161.26,99.62 L162.52,99.4 L163.78,99.18 L165.04,98.96 L166.3,98.74 L167.56,98.52 L168.82,98.3 L170.08,98.08 L171.34,97.86 L172.6,97.64 L173.86,97.42 L175.12,97.21 L176.39,96.99 L177.65,96.77 L178.91,96.55 L180.17,96.33 L181.43,96.12 L182.69,95.9 L183.95,95.68 L185.21,95.47 L186.47,95.25 L187.73,95.03" fill="none" stroke="#a0c030" stroke-width="1.4000000000000001" stroke-linejoin="round" stroke-linecap="butt" />
<rect x="37.7" y="0.6" width="179.5" height="121.9" fill="none" stroke="#000" stroke-width="1.2"/>
<line x1="37.7" y1="122.5" x2="37.7" y2="118.4" stroke="#000" stroke-width="1"/>
<line x1="97.53" y1="122.5" x2="97.53" y2="118.4" stroke="#000" stroke-width="1"/>
<line x1="157.37" y1="122.5" x2="157.37" y2="118.4" stroke="#000" stroke-width="1"/>
<line x1="217.2" y1="122.5" x2="217.2" y2="118.4" stroke="#000" stroke-width="1"/>
<line x1="67.62" y1="122.5" x2="67.62" y2="120.1" stroke="#000" stroke-width="1"/>
<line x1="127.45" y1="122.5" x2="127.45" y2="120.1" stroke="#000" stroke-width="1"/>
<line x1="187.28" y1="122.5" x2="187.28" y2="120.1" stroke="#000" stroke-width="1"/>
<text x="37.7" y="135.3" font-size="11.5" text-anchor="middle" >0</text>
<text x="97.53" y="135.3" font-size="11.5" text-anchor="middle" >20</text>
<text x="157.37" y="135.3" font-size="11.5" text-anchor="middle" >40</text>
<text x="217.2" y="135.3" font-size="11.5" text-anchor="middle" >60</text>
<line x1="37.7" y1="122.5" x2="41.8" y2="122.5" stroke="#000" stroke-width="1"/>
<line x1="37.7" y1="87.73" x2="41.8" y2="87.73" stroke="#000" stroke-width="1"/>
<line x1="37.7" y1="52.97" x2="41.8" y2="52.97" stroke="#000" stroke-width="1"/>
<line x1="37.7" y1="18.2" x2="41.8" y2="18.2" stroke="#000" stroke-width="1"/>
<line x1="37.7" y1="105.12" x2="40.1" y2="105.12" stroke="#000" stroke-width="1"/>
<line x1="37.7" y1="70.35" x2="40.1" y2="70.35" stroke="#000" stroke-width="1"/>
<line x1="37.7" y1="35.58" x2="40.1" y2="35.58" stroke="#000" stroke-width="1"/>
<line x1="37.7" y1="0.82" x2="40.1" y2="0.82" stroke="#000" stroke-width="1"/>
<text x="33" y="126.3" font-size="11.5" text-anchor="end" >0</text>
<text x="33" y="91.53" font-size="11.5" text-anchor="end" >10</text>
<text x="33" y="56.77" font-size="11.5" text-anchor="end" >20</text>
<text x="33" y="22" font-size="11.5" text-anchor="end" >30</text>
<path d="M247.3,122.3 L247.66,110.11 L247.68,109.78 L248.05,103.08 L248.35,100.62 L248.43,100.48 L248.8,99.94 L249.18,99.56 L249.55,99.31 L249.93,99.13 L250.29,98.99 L250.3,98.99 L250.68,98.86 L251.05,98.73 L251.43,98.61 L251.8,98.49 L252.18,98.38 L252.55,98.27 L252.93,98.17 L253.3,98.07 L253.68,97.98 L254.05,97.89 L254.43,97.8 L254.8,97.72 L255.18,97.64 L255.55,97.57 L255.93,97.5 L256.3,97.43 L256.68,97.36 L257.05,97.3 L257.43,97.24 L257.81,97.18 L258.18,97.13 L258.56,97.07 L258.93,97.02 L259.31,96.97 L259.68,96.92 L260.06,96.87 L260.43,96.82 L260.81,96.77 L261.18,96.73 L261.56,96.68 L261.93,96.63 L262.31,96.59 L262.68,96.54 L263.06,96.49 L263.43,96.44 L263.81,96.4 L264.18,96.35 L264.56,96.29 L264.93,96.24 L265.31,96.19 L265.68,96.13 L266.06,96.07 L266.43,96.01 L266.81,95.95 L267.18,95.89 L267.56,95.82 L267.94,95.75 L267.96,95.74 L268.31,95.67 L268.69,95.6 L269.06,95.53 L269.44,95.46 L269.81,95.38 L270.19,95.31 L270.56,95.24 L270.94,95.17 L271.31,95.1 L271.69,95.02 L272.06,94.95 L272.44,94.88 L272.81,94.81 L273.19,94.73 L273.56,94.66 L273.94,94.59 L274.31,94.52 L274.69,94.44 L275.06,94.37 L275.44,94.3 L275.81,94.22 L276.19,94.15 L276.56,94.07 L276.94,94 L277.31,93.92 L277.69,93.85 L278.06,93.77 L278.44,93.7 L278.82,93.62 L279.19,93.54 L279.57,93.47 L279.94,93.39 L280.32,93.31 L280.69,93.23 L281.07,93.16 L281.44,93.08 L281.82,93 L282.19,92.92 L282.57,92.84 L282.94,92.75 L283.32,92.67 L283.69,92.59 L284.07,92.51 L284.44,92.42 L284.82,92.34 L285.19,92.25 L285.57,92.17 L285.94,92.08 L286.32,92 L286.52,91.95 L286.69,91.91 L287.07,91.82 L287.44,91.73 L287.82,91.64 L288.19,91.55 L288.57,91.46 L288.95,91.36 L289.32,91.27 L289.7,91.18 L290.07,91.08 L290.45,90.99 L290.82,90.89 L291.2,90.8 L291.57,90.7 L291.95,90.6 L292.32,90.5 L292.7,90.41 L293.07,90.31 L293.45,90.21 L293.82,90.11 L294.2,90.01 L294.57,89.9 L294.95,89.8 L295.32,89.7 L295.7,89.6 L296.07,89.49 L296.45,89.39 L296.82,89.28 L297.2,89.18 L297.57,89.07 L297.95,88.97 L298.32,88.86 L298.7,88.76 L299.08,88.65 L299.45,88.54 L299.83,88.43 L300.2,88.32 L300.58,88.22 L300.95,88.11 L301.33,88 L301.7,87.89 L302.08,87.78 L302.45,87.67 L302.83,87.56 L303.2,87.45 L303.58,87.34 L303.95,87.22 L304.33,87.11 L304.7,87 L305.08,86.89 L305.45,86.78 L305.83,86.66 L306.2,86.55 L306.58,86.44 L306.95,86.32 L307.18,86.26 L307.33,86.21 L307.7,86.1 L308.08,85.99 L308.45,85.88 L308.83,85.77 L309.21,85.66 L309.58,85.55 L309.96,85.44 L310.33,85.33 L310.71,85.22 L311.08,85.11 L311.46,85.01 L311.83,84.9 L312.21,84.79 L312.58,84.68 L312.96,84.57 L313.33,84.46 L313.71,84.35 L314.08,84.24 L314.46,84.13 L314.83,84.02 L315.21,83.9 L315.58,83.79 L315.96,83.67 L316.33,83.56 L316.71,83.44 L317.08,83.32 L317.46,83.2 L317.83,83.08 L318.21,82.96 L318.58,82.83 L318.96,82.71 L319.34,82.58 L319.71,82.45 L320.09,82.32 L320.46,82.18 L320.84,82.05 L321.21,81.91 L321.59,81.77 L321.96,81.62 L322.34,81.48 L322.71,81.33 L323.09,81.18 L323.46,81.02 L323.84,80.87 L324.21,80.71 L324.59,80.54 L324.96,80.38 L325.14,80.3 L325.34,80.21 L325.71,80.04 L326.09,79.88 L326.46,79.73 L326.84,79.57 L327.21,79.41 L327.59,79.25 L327.96,79.09 L328.34,78.92 L328.71,78.75 L329.09,78.57 L329.46,78.37 L329.84,78.17 L330.22,77.96 L330.59,77.73 L330.97,77.48 L331.34,77.22 L331.72,76.94 L332.09,76.64 L332.47,76.32 L332.84,75.98 L333.22,75.61 L333.59,75.21 L333.97,74.79 L334.12,74.6 L334.34,74.34 L334.72,73.82 L335.09,73.16 L335.47,72.29 L335.84,71.13 L336.22,69.6 L336.59,67.63 L336.82,66.2 L336.97,63.65 L337.34,49.33 L337.57,41 L337.72,36.17 L338.09,24.56 L338.32,21.49 L338.47,21.1 L338.84,20.37 L339.22,19.91 L339.59,19.66 L339.81,19.59 L339.97,19.56 L340.35,19.49 L340.72,19.42 L341.1,19.36 L341.47,19.29 L341.85,19.23 L342.22,19.16 L342.6,19.1 L342.97,19.04 L343.35,18.99 L343.72,18.93 L344.1,18.87 L344.47,18.82 L344.85,18.77 L345.22,18.72 L345.6,18.67 L345.97,18.62 L346.35,18.57 L346.72,18.53 L347.1,18.48 L347.47,18.44 L347.85,18.4 L348.22,18.36 L348.6,18.32 L348.97,18.28 L349.35,18.24 L349.72,18.21 L350.1,18.17 L350.48,18.14 L350.85,18.1 L351.23,18.07 L351.6,18.04 L351.98,18.01 L352.35,17.98 L352.73,17.95 L353.1,17.92 L353.48,17.89 L353.85,17.87 L354.23,17.84 L354.6,17.82 L354.98,17.79 L355.35,17.77 L355.73,17.75 L356.1,17.73 L356.48,17.7 L356.85,17.68 L357.23,17.66 L357.6,17.64 L357.98,17.63 L358.35,17.61 L358.73,17.59 L359.1,17.57 L359.48,17.56 L359.85,17.54 L360.23,17.52 L360.61,17.51 L360.98,17.49 L361.36,17.48 L361.73,17.46 L362.11,17.45 L362.48,17.43 L362.86,17.42 L363.23,17.41 L363.61,17.39 L363.98,17.38 L364.36,17.37 L364.73,17.35 L365.11,17.34 L365.48,17.33 L365.86,17.31 L366.23,17.3 L366.61,17.29 L366.98,17.28 L367.36,17.26 L367.73,17.25 L368.11,17.24 L368.48,17.23 L368.86,17.21 L369.23,17.2 L369.61,17.19 L369.98,17.17 L370.36,17.16 L370.73,17.14 L371.11,17.13 L371.49,17.11 L371.86,17.1 L372.24,17.08 L372.61,17.07 L372.99,17.05 L373.36,17.04 L373.74,17.02 L374.11,17 L374.49,16.98 L374.86,16.97 L375.24,16.95 L375.61,16.93 L375.99,16.91 L376.36,16.89 L376.74,16.87 L377.11,16.84 L377.49,16.82 L377.86,16.8 L378.24,16.77 L378.61,16.75 L378.99,16.72 L379.36,16.7 L379.74,16.67 L380.11,16.64 L380.49,16.61 L380.53,16.61 L380.86,16.58 L381.24,16.55 L381.62,16.52 L381.99,16.5 L382.37,16.47 L382.74,16.44 L383.12,16.41 L383.49,16.38 L383.87,16.35 L384.24,16.32 L384.62,16.29 L384.99,16.26 L385.37,16.22 L385.74,16.19 L386.12,16.16 L386.49,16.13 L386.87,16.1 L387.24,16.07 L387.62,16.04 L387.99,16.01 L388.37,15.98 L388.74,15.95 L389.12,15.92 L389.49,15.89 L389.87,15.85 L390.24,15.82 L390.62,15.79 L390.99,15.76 L391.37,15.73 L391.75,15.7 L392.12,15.67 L392.5,15.64 L392.87,15.6 L393.25,15.57 L393.62,15.54 L394,15.51 L394.37,15.48 L394.75,15.45 L395.12,15.41 L395.5,15.38 L395.87,15.35 L396.25,15.32 L396.62,15.29 L397,15.26" fill="none" stroke="#000000" stroke-width="1.5" stroke-linejoin="round" stroke-linecap="butt" />
<path d="M247.3,122.3 L247.54,108.21 L247.68,107.42 L248.05,106.13 L248.43,105.58 L248.5,105.5 L248.8,105.18 L249.18,104.86 L249.55,104.61 L249.93,104.4 L250.3,104.22 L250.68,104.05 L251.04,103.87 L251.05,103.87 L251.43,103.67 L251.8,103.49 L252.18,103.3 L252.55,103.12 L252.93,102.94 L253.3,102.77 L253.68,102.59 L254.05,102.43 L254.43,102.26 L254.8,102.1 L255.18,101.94 L255.55,101.79 L255.93,101.63 L256.3,101.48 L256.68,101.34 L257.05,101.19 L257.43,101.05 L257.81,100.91 L258.18,100.78 L258.56,100.64 L258.93,100.51 L259.31,100.38 L259.68,100.26 L260.06,100.13 L260.43,100.01 L260.81,99.89 L261.07,99.81 L261.18,99.77 L261.56,99.66 L261.93,99.55 L262.31,99.44 L262.68,99.33 L263.06,99.22 L263.43,99.12 L263.81,99.02 L264.18,98.92 L264.56,98.83 L264.93,98.73 L265.31,98.64 L265.68,98.55 L266.06,98.46 L266.43,98.37 L266.81,98.28 L267.18,98.19 L267.56,98.11 L267.94,98.02 L268.31,97.94 L268.69,97.85 L269.06,97.77 L269.44,97.68 L269.81,97.6 L270.19,97.51 L270.56,97.42 L270.94,97.34 L271.31,97.25 L271.69,97.16 L272.06,97.07 L272.44,96.98 L272.81,96.89 L273.19,96.8 L273.56,96.7 L273.94,96.61 L274.31,96.51 L274.69,96.41 L275.06,96.31 L275.14,96.28 L275.44,96.2 L275.81,96.1 L276.19,95.99 L276.56,95.89 L276.94,95.78 L277.31,95.67 L277.69,95.56 L278.06,95.46 L278.44,95.35 L278.82,95.24 L279.19,95.12 L279.57,95.01 L279.94,94.9 L280.32,94.79 L280.69,94.67 L281.07,94.56 L281.44,94.44 L281.82,94.32 L282.19,94.21 L282.57,94.09 L282.94,93.97 L283.32,93.85 L283.69,93.72 L284.07,93.6 L284.44,93.47 L284.82,93.35 L285.19,93.22 L285.57,93.09 L285.94,92.96 L286.32,92.83 L286.52,92.76 L286.69,92.7 L287.07,92.56 L287.44,92.43 L287.82,92.29 L288.19,92.15 L288.57,92 L288.95,91.86 L289.32,91.71 L289.7,91.56 L290.07,91.41 L290.45,91.26 L290.82,91.11 L291.2,90.95 L291.57,90.79 L291.95,90.64 L292.32,90.48 L292.7,90.32 L293.07,90.16 L293.45,90 L293.82,89.84 L294.2,89.68 L294.57,89.51 L294.95,89.35 L295.2,89.24 L295.32,89.19 L295.7,89.02 L296.07,88.86 L296.45,88.69 L296.82,88.52 L297.2,88.35 L297.57,88.18 L297.95,88.01 L298.32,87.84 L298.7,87.66 L299.08,87.49 L299.45,87.31 L299.83,87.14 L300.2,86.96 L300.58,86.78 L300.95,86.6 L301.33,86.42 L301.7,86.24 L302.08,86.06 L302.45,85.88 L302.83,85.7 L303.2,85.51 L303.58,85.33 L303.95,85.15 L304.33,84.96 L304.7,84.78 L305.08,84.59 L305.45,84.41 L305.83,84.22 L306.2,84.03 L306.58,83.85 L306.95,83.66 L307.18,83.55 L307.33,83.47 L307.7,83.29 L308.08,83.1 L308.45,82.91 L308.83,82.73 L309.21,82.54 L309.58,82.36 L309.96,82.17 L310.33,81.99 L310.71,81.8 L311.08,81.62 L311.46,81.43 L311.83,81.25 L312.21,81.07 L312.58,80.88 L312.96,80.7 L313.33,80.51 L313.71,80.33 L314.08,80.14 L314.46,79.96 L314.83,79.77 L315.21,79.58 L315.58,79.4 L315.96,79.21 L316.33,79.02 L316.71,78.84 L317.08,78.65 L317.46,78.46 L317.83,78.27 L318.21,78.08 L318.58,77.89 L318.96,77.69 L319.34,77.5 L319.71,77.31 L320.09,77.11 L320.46,76.92 L320.84,76.72 L321.21,76.53 L321.59,76.33 L321.96,76.13 L322.34,75.93 L322.71,75.73 L323.09,75.52 L323.46,75.32 L323.84,75.11 L324.21,74.91 L324.59,74.7 L324.96,74.49 L325.34,74.28 L325.71,74.07 L326.09,73.85 L326.46,73.64 L326.84,73.42 L327.21,73.2 L327.59,72.98 L327.96,72.76 L328.34,72.53 L328.71,72.31 L329.09,72.08 L329.46,71.85 L329.84,71.62 L330.22,71.39 L330.59,71.15 L330.97,70.92 L331.13,70.81 L331.34,70.68 L331.72,70.47 L332.09,70.27 L332.47,70.1 L332.84,69.94 L333.22,69.8 L333.59,69.66 L333.97,69.53 L334.34,69.4 L334.72,69.27 L335.09,69.14 L335.47,69.01 L335.84,68.86 L336.22,68.7 L336.59,68.53 L336.97,68.34 L337.34,68.13 L337.72,67.89 L338.09,67.63 L338.47,67.33 L338.84,67 L339.22,66.64 L339.59,66.23 L339.97,65.79 L340.35,65.29 L340.72,64.75 L341.1,64.16 L341.47,63.51 L341.85,62.8 L341.91,62.68 L342.22,57.82 L342.6,46.45 L342.81,41 L342.97,37.47 L343.35,29.49 L343.71,25.28 L343.72,25.23 L344.1,24.14 L344.47,23.32 L344.85,22.76 L345.22,22.42 L345.5,22.3 L345.6,22.28 L345.97,22.18 L346.35,22.09 L346.72,22 L347.1,21.91 L347.47,21.82 L347.85,21.74 L348.22,21.66 L348.6,21.58 L348.97,21.5 L349.35,21.42 L349.72,21.35 L350.1,21.28 L350.48,21.21 L350.85,21.14 L351.23,21.07 L351.6,21.01 L351.98,20.95 L352.35,20.89 L352.73,20.83 L353.1,20.77 L353.48,20.72 L353.85,20.66 L354.23,20.61 L354.6,20.56 L354.98,20.51 L355.35,20.46 L355.73,20.41 L356.1,20.37 L356.48,20.33 L356.85,20.28 L357.23,20.24 L357.6,20.2 L357.98,20.16 L358.35,20.13 L358.73,20.09 L359.1,20.05 L359.48,20.02 L359.85,19.99 L360.23,19.96 L360.61,19.93 L360.98,19.9 L361.36,19.87 L361.73,19.84 L362.11,19.81 L362.48,19.78 L362.86,19.76 L363.23,19.73 L363.61,19.71 L363.98,19.69 L364.36,19.66 L364.73,19.64 L365.11,19.62 L365.48,19.6 L365.86,19.58 L366.23,19.56 L366.61,19.54 L366.98,19.52 L367.36,19.5 L367.73,19.48 L368.11,19.46 L368.48,19.44 L368.86,19.42 L369.23,19.41 L369.61,19.39 L369.98,19.37 L370.36,19.35 L370.73,19.33 L371.11,19.32 L371.49,19.3 L371.86,19.28 L372.24,19.26 L372.61,19.25 L372.99,19.23 L373.36,19.21 L373.74,19.19 L374.11,19.17 L374.49,19.15 L374.86,19.14 L375.24,19.12 L375.61,19.1 L375.99,19.07 L376.36,19.05 L376.74,19.03 L377.11,19.01 L377.49,18.99 L377.86,18.96 L378.24,18.94 L378.61,18.92 L378.99,18.89 L379.36,18.86 L379.74,18.84 L380.11,18.81 L380.49,18.78 L380.53,18.78 L380.86,18.75 L381.24,18.72 L381.62,18.69 L381.99,18.67 L382.37,18.64 L382.74,18.61 L383.12,18.58 L383.49,18.55 L383.87,18.53 L384.24,18.5 L384.62,18.47 L384.99,18.45 L385.37,18.42 L385.74,18.39 L386.12,18.37 L386.49,18.34 L386.87,18.32 L387.24,18.29 L387.62,18.27 L387.99,18.24 L388.37,18.21 L388.74,18.19 L389.12,18.17 L389.49,18.14 L389.87,18.12 L390.24,18.09 L390.62,18.07 L390.99,18.05 L391.37,18.02 L391.75,18 L392.12,17.98 L392.5,17.95 L392.87,17.93 L393.25,17.91 L393.62,17.89 L394,17.86 L394.37,17.84 L394.75,17.82 L395.12,17.8 L395.5,17.78 L395.87,17.76 L396.25,17.74 L396.62,17.71 L397,17.69" fill="none" stroke="#ff0000" stroke-width="1.4000000000000001" stroke-linejoin="round" stroke-linecap="butt" />
<path d="M247.3,122.3 L247.68,120.72 L248.05,119.22 L248.43,117.83 L248.8,116.61 L248.8,116.6 L249.18,115.46 L249.55,114.38 L249.93,113.37 L250.3,112.44 L250.68,111.61 L251.04,110.92 L251.05,110.9 L251.43,110.27 L251.8,109.69 L252.18,109.14 L252.55,108.62 L252.93,108.14 L253.3,107.68 L253.68,107.25 L254.05,106.83 L254.43,106.44 L254.8,106.06 L255.18,105.7 L255.38,105.5 L255.55,105.34 L255.93,104.98 L256.3,104.64 L256.68,104.3 L257.05,103.97 L257.43,103.65 L257.81,103.34 L258.18,103.04 L258.56,102.76 L258.93,102.48 L259.31,102.22 L259.68,101.97 L260.06,101.73 L260.43,101.51 L260.81,101.3 L261.07,101.16 L261.18,101.11 L261.56,100.92 L261.93,100.74 L262.31,100.57 L262.68,100.4 L263.06,100.24 L263.43,100.08 L263.81,99.93 L264.18,99.78 L264.56,99.63 L264.93,99.49 L265.31,99.35 L265.68,99.22 L266.06,99.08 L266.43,98.96 L266.81,98.83 L267.18,98.71 L267.56,98.59 L267.94,98.47 L268.31,98.35 L268.69,98.23 L269.06,98.12 L269.44,98.01 L269.81,97.89 L270.19,97.78 L270.56,97.67 L270.94,97.56 L271.31,97.45 L271.69,97.34 L272.06,97.23 L272.44,97.12 L272.81,97.01 L273.19,96.9 L273.56,96.78 L273.94,96.67 L274.31,96.55 L274.69,96.43 L275.06,96.31 L275.14,96.28 L275.44,96.19 L275.81,96.07 L276.19,95.95 L276.56,95.84 L276.94,95.72 L277.31,95.61 L277.69,95.5 L278.06,95.39 L278.44,95.28 L278.82,95.17 L279.19,95.06 L279.57,94.95 L279.94,94.85 L280.32,94.74 L280.69,94.63 L281.07,94.52 L281.44,94.41 L281.82,94.3 L282.19,94.19 L282.57,94.08 L282.94,93.96 L283.32,93.85 L283.69,93.73 L284.07,93.61 L284.44,93.49 L284.82,93.36 L285.19,93.24 L285.57,93.11 L285.94,92.97 L286.32,92.84 L286.52,92.76 L286.69,92.7 L287.07,92.55 L287.44,92.41 L287.82,92.26 L288.19,92.1 L288.57,91.95 L288.95,91.79 L289.32,91.63 L289.7,91.46 L290.07,91.3 L290.45,91.13 L290.82,90.96 L291.2,90.78 L291.57,90.61 L291.95,90.43 L292.32,90.25 L292.7,90.07 L293.07,89.88 L293.45,89.7 L293.82,89.51 L294.2,89.32 L294.57,89.13 L294.95,88.94 L295.32,88.75 L295.7,88.55 L296.07,88.36 L296.45,88.16 L296.82,87.96 L297.2,87.76 L297.57,87.56 L297.95,87.36 L298.32,87.16 L298.7,86.96 L299.08,86.76 L299.45,86.56 L299.83,86.35 L300.2,86.15 L300.58,85.95 L300.95,85.75 L301.33,85.54 L301.7,85.34 L302.08,85.14 L302.45,84.94 L302.83,84.74 L303.2,84.54 L303.58,84.34 L303.95,84.14 L304.33,83.94 L304.7,83.74 L305.08,83.54 L305.45,83.35 L305.83,83.15 L306.2,82.96 L306.58,82.77 L306.95,82.58 L307.18,82.46 L307.33,82.39 L307.7,82.2 L308.08,82.01 L308.45,81.82 L308.83,81.63 L309.21,81.45 L309.58,81.26 L309.96,81.07 L310.33,80.89 L310.71,80.7 L311.08,80.51 L311.46,80.33 L311.83,80.14 L312.21,79.95 L312.58,79.77 L312.96,79.58 L313.33,79.4 L313.71,79.21 L314.08,79.03 L314.46,78.84 L314.83,78.65 L315.21,78.47 L315.58,78.28 L315.96,78.1 L316.33,77.91 L316.71,77.72 L317.08,77.54 L317.46,77.35 L317.83,77.16 L318.21,76.98 L318.58,76.79 L318.96,76.6 L319.34,76.41 L319.71,76.23 L320.09,76.04 L320.46,75.85 L320.84,75.66 L321.21,75.47 L321.59,75.28 L321.96,75.09 L322.34,74.9 L322.71,74.71 L323.09,74.52 L323.46,74.33 L323.84,74.13 L324.21,73.94 L324.59,73.75 L324.96,73.55 L325.34,73.36 L325.71,73.16 L326.09,72.97 L326.46,72.77 L326.84,72.58 L327.21,72.38 L327.59,72.18 L327.96,71.98 L328.34,71.78 L328.71,71.58 L329.09,71.38 L329.46,71.18 L329.84,70.97 L330.22,70.77 L330.59,70.56 L330.97,70.36 L331.13,70.27 L331.34,70.15 L331.72,69.95 L332.09,69.75 L332.47,69.56 L332.84,69.37 L333.22,69.18 L333.59,68.99 L333.97,68.8 L334.34,68.61 L334.72,68.42 L335.09,68.24 L335.47,68.05 L335.84,67.85 L336.22,67.66 L336.59,67.46 L336.97,67.26 L337.34,67.06 L337.72,66.85 L338.09,66.63 L338.47,66.41 L338.84,66.18 L339.22,65.95 L339.59,65.71 L339.97,65.46 L340.35,65.2 L340.72,64.93 L341.1,64.65 L341.47,64.36 L341.85,64.06 L342.21,63.76 L342.22,63.75 L342.6,63.44 L342.97,63.11 L343.35,62.78 L343.72,62.43 L344.1,62.06 L344.47,61.67 L344.85,61.24 L345.22,60.77 L345.6,60.26 L345.97,59.7 L346.35,59.09 L346.72,58.42 L347.1,57.68 L347.3,57.26 L347.47,56.84 L347.85,55.71 L348.22,54.25 L348.6,52.48 L348.97,50.42 L349.35,48.07 L349.39,47.78 L349.72,44.48 L350.1,39.19 L350.48,33.9 L350.85,30.36 L350.89,30.16 L351.23,28.75 L351.6,27.4 L351.98,26.34 L352.35,25.62 L352.69,25.28 L352.73,25.26 L353.1,25.08 L353.48,24.91 L353.85,24.77 L354.23,24.65 L354.6,24.54 L354.98,24.45 L355.35,24.37 L355.73,24.3 L356.1,24.23 L356.48,24.17 L356.85,24.12 L357.23,24.06 L357.6,24.01 L357.98,23.94 L358.08,23.93 L358.35,23.88 L358.73,23.81 L359.1,23.75 L359.48,23.69 L359.85,23.63 L360.23,23.57 L360.61,23.51 L360.98,23.45 L361.36,23.39 L361.73,23.34 L362.11,23.28 L362.48,23.23 L362.86,23.18 L363.23,23.13 L363.61,23.07 L363.98,23.02 L364.36,22.97 L364.73,22.92 L365.11,22.88 L365.48,22.83 L365.86,22.78 L366.23,22.74 L366.61,22.69 L366.98,22.65 L367.36,22.6 L367.73,22.56 L368.11,22.52 L368.48,22.47 L368.86,22.43 L369.23,22.39 L369.61,22.35 L369.98,22.31 L370.36,22.27 L370.73,22.23 L371.11,22.19 L371.49,22.15 L371.86,22.11 L372.24,22.07 L372.61,22.03 L372.99,21.99 L373.36,21.95 L373.74,21.92 L374.11,21.88 L374.49,21.84 L374.86,21.8 L375.24,21.76 L375.61,21.73 L375.99,21.69 L376.36,21.65 L376.74,21.61 L377.11,21.57 L377.49,21.54 L377.86,21.5 L378.24,21.46 L378.61,21.42 L378.99,21.38 L379.36,21.34 L379.74,21.3 L380.11,21.26 L380.49,21.22 L380.53,21.22 L380.86,21.18 L381.24,21.14 L381.62,21.1 L381.99,21.06 L382.37,21.02 L382.74,20.98 L383.12,20.94 L383.49,20.9 L383.87,20.86 L384.24,20.82 L384.62,20.78 L384.99,20.75 L385.37,20.71 L385.74,20.67 L386.12,20.63 L386.49,20.59 L386.87,20.55 L387.24,20.52 L387.62,20.48 L387.99,20.44 L388.37,20.4 L388.74,20.37 L389.12,20.33 L389.49,20.29 L389.87,20.26 L390.24,20.22 L390.62,20.18 L390.99,20.15 L391.37,20.11 L391.75,20.08 L392.12,20.04 L392.5,20.01 L392.87,19.97 L393.25,19.93 L393.62,19.9 L394,19.86 L394.37,19.83 L394.75,19.8 L395.12,19.76 L395.5,19.73 L395.87,19.69 L396.25,19.66 L396.62,19.62 L397,19.59" fill="none" stroke="#00ff00" stroke-width="1.4000000000000001" stroke-linejoin="round" stroke-linecap="butt" />
<path d="M247.3,122.3 L247.68,121.47 L248.05,120.66 L248.43,119.88 L248.8,119.12 L249.18,118.39 L249.55,117.68 L249.93,117.02 L250.3,116.39 L250.68,115.79 L251.04,115.25 L251.05,115.24 L251.43,114.72 L251.8,114.23 L252.18,113.75 L252.55,113.3 L252.93,112.86 L253.3,112.45 L253.68,112.04 L254.05,111.66 L254.43,111.28 L254.8,110.92 L255.18,110.56 L255.38,110.38 L255.55,110.22 L255.93,109.88 L256.3,109.56 L256.68,109.24 L257.05,108.93 L257.43,108.62 L257.81,108.32 L258.18,108.04 L258.56,107.75 L258.93,107.48 L259.31,107.21 L259.68,106.95 L260.06,106.7 L260.43,106.45 L260.81,106.21 L261.07,106.04 L261.18,105.97 L261.56,105.74 L261.93,105.52 L262.31,105.29 L262.68,105.07 L263.06,104.86 L263.43,104.65 L263.81,104.44 L264.18,104.23 L264.56,104.03 L264.93,103.83 L265.31,103.63 L265.68,103.44 L266.06,103.24 L266.43,103.05 L266.81,102.87 L267.18,102.68 L267.56,102.5 L267.94,102.32 L268.31,102.14 L268.69,101.96 L269.06,101.78 L269.44,101.6 L269.81,101.43 L270.19,101.26 L270.56,101.08 L270.94,100.91 L271.31,100.74 L271.69,100.57 L272.06,100.4 L272.44,100.23 L272.81,100.06 L273.19,99.89 L273.56,99.72 L273.94,99.55 L274.31,99.37 L274.69,99.2 L275.06,99.03 L275.14,98.99 L275.44,98.86 L275.81,98.69 L276.19,98.52 L276.56,98.36 L276.94,98.19 L277.31,98.03 L277.69,97.87 L278.06,97.72 L278.44,97.56 L278.82,97.4 L279.19,97.25 L279.57,97.1 L279.94,96.94 L280.32,96.79 L280.69,96.64 L281.07,96.48 L281.44,96.33 L281.82,96.17 L282.19,96.02 L282.57,95.86 L282.94,95.71 L283.32,95.55 L283.69,95.39 L284.07,95.23 L284.44,95.06 L284.82,94.9 L285.19,94.73 L285.57,94.56 L285.94,94.39 L286.32,94.21 L286.52,94.12 L286.69,94.03 L287.07,93.85 L287.44,93.67 L287.82,93.48 L288.19,93.3 L288.57,93.11 L288.95,92.92 L289.32,92.72 L289.7,92.53 L290.07,92.33 L290.45,92.14 L290.82,91.94 L291.2,91.74 L291.57,91.53 L291.95,91.33 L292.32,91.13 L292.7,90.92 L293.07,90.71 L293.45,90.5 L293.82,90.29 L294.2,90.08 L294.57,89.87 L294.95,89.66 L295.32,89.45 L295.7,89.24 L296.07,89.02 L296.45,88.81 L296.82,88.59 L297.2,88.38 L297.57,88.16 L297.95,87.95 L298.32,87.73 L298.7,87.51 L299.08,87.3 L299.45,87.08 L299.83,86.86 L300.2,86.65 L300.58,86.43 L300.95,86.22 L301.33,86 L301.7,85.79 L302.08,85.57 L302.45,85.36 L302.83,85.14 L303.2,84.93 L303.58,84.72 L303.95,84.51 L304.33,84.3 L304.7,84.09 L305.08,83.88 L305.45,83.67 L305.83,83.47 L306.2,83.26 L306.58,83.06 L306.95,82.85 L307.18,82.73 L307.33,82.65 L307.7,82.45 L308.08,82.26 L308.45,82.06 L308.83,81.86 L309.21,81.67 L309.58,81.47 L309.96,81.28 L310.33,81.09 L310.71,80.9 L311.08,80.71 L311.46,80.52 L311.83,80.33 L312.21,80.15 L312.58,79.96 L312.96,79.78 L313.33,79.59 L313.71,79.41 L314.08,79.22 L314.46,79.04 L314.83,78.85 L315.21,78.67 L315.58,78.49 L315.96,78.31 L316.33,78.12 L316.71,77.94 L317.08,77.76 L317.46,77.58 L317.83,77.4 L318.21,77.21 L318.58,77.03 L318.96,76.85 L319.34,76.66 L319.71,76.48 L320.09,76.3 L320.46,76.11 L320.84,75.93 L321.21,75.74 L321.59,75.56 L321.96,75.37 L322.34,75.18 L322.71,74.99 L323.09,74.81 L323.46,74.62 L323.84,74.43 L324.21,74.23 L324.59,74.04 L324.96,73.85 L325.34,73.65 L325.71,73.46 L326.09,73.26 L326.46,73.06 L326.84,72.86 L327.21,72.66 L327.59,72.45 L327.96,72.25 L328.34,72.04 L328.71,71.83 L329.09,71.63 L329.46,71.41 L329.84,71.2 L330.22,70.99 L330.59,70.77 L330.97,70.55 L331.34,70.33 L331.72,70.1 L332.09,69.88 L332.47,69.65 L332.84,69.42 L333.22,69.19 L333.23,69.18 L333.59,68.96 L333.97,68.72 L334.34,68.48 L334.72,68.24 L335.09,67.99 L335.47,67.74 L335.84,67.49 L336.22,67.24 L336.59,66.98 L336.97,66.72 L337.34,66.46 L337.72,66.2 L338.09,65.93 L338.47,65.66 L338.84,65.39 L339.22,65.12 L339.59,64.84 L339.97,64.57 L340.35,64.29 L340.72,64 L341.1,63.72 L341.47,63.43 L341.85,63.14 L342.22,62.85 L342.6,62.55 L342.97,62.26 L343.35,61.96 L343.72,61.66 L344.1,61.35 L344.47,61.05 L344.85,60.74 L345.22,60.43 L345.6,60.12 L345.97,59.81 L346.1,59.7 L346.35,59.49 L346.72,59.18 L347.1,58.87 L347.47,58.56 L347.85,58.24 L348.22,57.93 L348.6,57.62 L348.97,57.3 L349.35,56.98 L349.72,56.66 L350.1,56.33 L350.48,56 L350.85,55.66 L351.23,55.31 L351.6,54.95 L351.98,54.59 L352.35,54.22 L352.73,53.83 L353.1,53.44 L353.48,53.03 L353.85,52.61 L354.23,52.18 L354.6,51.73 L354.98,51.27 L355.35,50.79 L355.38,50.76 L355.73,50.3 L356.1,49.8 L356.48,49.27 L356.85,48.69 L357.23,48.05 L357.6,47.35 L357.98,46.56 L358.35,45.66 L358.38,45.61 L358.73,44.43 L359.1,42.68 L359.48,40.59 L359.85,38.33 L360.23,36.06 L360.61,33.97 L360.98,32.23 L361.36,31.01 L361.37,30.97 L361.73,30.14 L362.11,29.34 L362.48,28.62 L362.86,28.01 L363.23,27.54 L363.61,27.25 L363.76,27.18 L363.98,27.11 L364.36,27.01 L364.73,26.91 L365.11,26.82 L365.48,26.74 L365.86,26.67 L366.23,26.6 L366.61,26.54 L366.98,26.49 L367.36,26.44 L367.73,26.39 L368.11,26.35 L368.48,26.31 L368.86,26.28 L369.23,26.24 L369.61,26.21 L369.98,26.18 L370.36,26.15 L370.73,26.12 L371.11,26.08 L371.49,26.05 L371.86,26.01 L372.24,25.97 L372.61,25.92 L372.99,25.88 L373.35,25.82 L373.36,25.82 L373.74,25.77 L374.11,25.71 L374.49,25.65 L374.86,25.6 L375.24,25.54 L375.61,25.48 L375.99,25.43 L376.36,25.37 L376.74,25.31 L377.11,25.26 L377.49,25.2 L377.86,25.14 L378.24,25.09 L378.61,25.03 L378.99,24.97 L379.36,24.91 L379.74,24.85 L380.11,24.8 L380.49,24.74 L380.86,24.68 L381.24,24.62 L381.62,24.56 L381.99,24.5 L382.37,24.45 L382.74,24.39 L383.12,24.33 L383.49,24.27 L383.87,24.21 L384.24,24.15 L384.62,24.09 L384.99,24.03 L385.37,23.97 L385.74,23.91 L386.12,23.85 L386.49,23.79 L386.87,23.73 L387.24,23.67 L387.62,23.61 L387.99,23.55 L388.37,23.48 L388.74,23.42 L389.12,23.36 L389.49,23.3 L389.87,23.24 L390.24,23.18 L390.62,23.11 L390.99,23.05 L391.37,22.99 L391.75,22.93 L392.12,22.86 L392.5,22.8 L392.87,22.74 L393.25,22.67 L393.62,22.61 L394,22.55 L394.37,22.48 L394.75,22.42 L395.12,22.35 L395.5,22.29 L395.87,22.22 L396.25,22.16 L396.62,22.1 L397,22.03" fill="none" stroke="#0000ff" stroke-width="1.4000000000000001" stroke-linejoin="round" stroke-linecap="butt" />
<path d="M247.3,122.3 L247.68,121.78 L248.05,121.27 L248.43,120.77 L248.8,120.28 L249.18,119.79 L249.55,119.32 L249.93,118.85 L250.3,118.39 L250.68,117.94 L251.05,117.5 L251.43,117.07 L251.8,116.64 L252.18,116.23 L252.55,115.83 L252.93,115.43 L253.3,115.05 L253.68,114.67 L254.05,114.3 L254.43,113.95 L254.8,113.6 L255.18,113.27 L255.38,113.09 L255.55,112.94 L255.93,112.62 L256.3,112.32 L256.68,112.02 L257.05,111.74 L257.43,111.46 L257.81,111.19 L258.18,110.92 L258.56,110.66 L258.93,110.41 L259.31,110.16 L259.68,109.92 L260.06,109.67 L260.43,109.43 L260.81,109.19 L261.07,109.02 L261.18,108.95 L261.56,108.71 L261.93,108.48 L262.31,108.24 L262.68,108.01 L263.06,107.78 L263.43,107.55 L263.81,107.32 L264.18,107.09 L264.56,106.87 L264.93,106.64 L265.31,106.42 L265.68,106.2 L266.06,105.98 L266.43,105.77 L266.81,105.55 L267.18,105.34 L267.56,105.13 L267.94,104.92 L268.31,104.71 L268.69,104.5 L269.06,104.29 L269.44,104.09 L269.81,103.89 L270.19,103.68 L270.56,103.48 L270.94,103.29 L271.31,103.09 L271.69,102.89 L272.06,102.7 L272.44,102.51 L272.81,102.32 L273.19,102.13 L273.56,101.94 L273.94,101.75 L274.31,101.57 L274.69,101.38 L275.06,101.2 L275.14,101.16 L275.44,101.02 L275.81,100.84 L276.19,100.67 L276.56,100.5 L276.94,100.34 L277.31,100.17 L277.69,100.01 L278.06,99.85 L278.44,99.69 L278.82,99.54 L279.19,99.38 L279.57,99.23 L279.94,99.08 L280.32,98.93 L280.69,98.78 L281.07,98.63 L281.44,98.47 L281.82,98.32 L282.19,98.17 L282.57,98.02 L282.94,97.86 L283.32,97.71 L283.69,97.55 L284.07,97.39 L284.44,97.23 L284.82,97.07 L285.19,96.9 L285.57,96.73 L285.94,96.56 L286.32,96.38 L286.52,96.28 L286.69,96.2 L287.07,96.02 L287.44,95.83 L287.82,95.65 L288.19,95.46 L288.57,95.27 L288.95,95.08 L289.32,94.88 L289.7,94.68 L290.07,94.49 L290.45,94.29 L290.82,94.09 L291.2,93.88 L291.57,93.68 L291.95,93.48 L292.32,93.27 L292.7,93.06 L293.07,92.85 L293.45,92.64 L293.82,92.43 L294.2,92.22 L294.57,92 L294.95,91.79 L295.32,91.57 L295.7,91.36 L296.07,91.14 L296.45,90.92 L296.82,90.7 L297.2,90.48 L297.57,90.26 L297.95,90.04 L298.32,89.82 L298.7,89.6 L299.08,89.38 L299.45,89.16 L299.83,88.94 L300.2,88.72 L300.58,88.49 L300.95,88.27 L301.33,88.05 L301.7,87.83 L302.08,87.61 L302.45,87.38 L302.83,87.16 L303.2,86.94 L303.58,86.72 L303.95,86.5 L304.33,86.28 L304.7,86.06 L305.08,85.84 L305.45,85.62 L305.83,85.41 L306.2,85.19 L306.58,84.97 L306.95,84.76 L307.18,84.63 L307.33,84.55 L307.7,84.33 L308.08,84.12 L308.45,83.91 L308.83,83.7 L309.21,83.48 L309.58,83.27 L309.96,83.06 L310.33,82.85 L310.71,82.64 L311.08,82.43 L311.46,82.23 L311.83,82.02 L312.21,81.81 L312.58,81.6 L312.96,81.4 L313.33,81.19 L313.71,80.98 L314.08,80.78 L314.46,80.57 L314.83,80.36 L315.21,80.16 L315.58,79.95 L315.96,79.75 L316.33,79.54 L316.71,79.34 L317.08,79.13 L317.46,78.93 L317.83,78.72 L318.21,78.52 L318.58,78.31 L318.96,78.11 L319.34,77.9 L319.71,77.7 L320.09,77.49 L320.46,77.29 L320.84,77.09 L321.21,76.88 L321.59,76.68 L321.96,76.47 L322.34,76.26 L322.71,76.06 L323.09,75.85 L323.46,75.65 L323.84,75.44 L324.21,75.24 L324.59,75.03 L324.96,74.82 L325.34,74.62 L325.71,74.41 L326.09,74.2 L326.46,73.99 L326.84,73.78 L327.21,73.58 L327.59,73.37 L327.96,73.16 L328.34,72.95 L328.71,72.74 L329.09,72.52 L329.46,72.31 L329.84,72.1 L330.22,71.89 L330.59,71.67 L330.97,71.46 L331.34,71.25 L331.72,71.03 L332.09,70.82 L332.47,70.6 L332.84,70.38 L333.22,70.17 L333.59,69.95 L333.97,69.73 L334.34,69.51 L334.72,69.29 L335.09,69.07 L335.47,68.84 L335.84,68.62 L336.22,68.4 L336.59,68.17 L336.97,67.95 L337.34,67.72 L337.72,67.49 L338.09,67.27 L338.47,67.04 L338.84,66.81 L339.22,66.57 L339.59,66.34 L339.97,66.11 L340.35,65.88 L340.72,65.64 L341.1,65.4 L341.47,65.17 L341.85,64.93 L342.22,64.69 L342.6,64.45 L342.97,64.21 L343.35,63.96 L343.72,63.72 L344.1,63.47 L344.47,63.22 L344.85,62.98 L345.22,62.73 L345.6,62.48 L345.97,62.22 L346.1,62.14 L346.35,61.97 L346.72,61.71 L347.1,61.45 L347.47,61.19 L347.85,60.92 L348.22,60.65 L348.6,60.38 L348.97,60.1 L349.35,59.83 L349.72,59.55 L350.1,59.26 L350.48,58.98 L350.85,58.69 L351.23,58.4 L351.6,58.11 L351.98,57.82 L352.35,57.52 L352.73,57.23 L353.1,56.93 L353.48,56.63 L353.85,56.33 L354.23,56.03 L354.6,55.72 L354.98,55.42 L355.35,55.12 L355.38,55.09 L355.73,54.81 L356.1,54.51 L356.48,54.21 L356.85,53.9 L357.23,53.6 L357.6,53.3 L357.98,52.99 L358.35,52.69 L358.73,52.38 L359.1,52.07 L359.48,51.76 L359.85,51.44 L360.23,51.12 L360.61,50.8 L360.98,50.47 L361.36,50.14 L361.73,49.8 L362.11,49.45 L362.48,49.1 L362.86,48.75 L363.23,48.38 L363.61,48.01 L363.98,47.63 L364.36,47.24 L364.36,47.23 L364.73,46.85 L365.11,46.45 L365.48,46.04 L365.86,45.64 L366.23,45.22 L366.61,44.79 L366.98,44.35 L367.36,43.9 L367.73,43.43 L368.11,42.95 L368.48,42.45 L368.86,41.93 L369.23,41.39 L369.61,40.83 L369.98,40.24 L370.35,39.64 L370.36,39.63 L370.73,38.92 L371.11,38.08 L371.49,37.15 L371.86,36.16 L372.24,35.16 L372.61,34.19 L372.99,33.28 L373.36,32.47 L373.74,31.81 L373.94,31.52 L374.11,31.31 L374.49,30.86 L374.86,30.45 L375.24,30.09 L375.61,29.78 L375.99,29.52 L376.34,29.35 L376.36,29.34 L376.74,29.19 L377.11,29.06 L377.49,28.94 L377.86,28.83 L378.24,28.73 L378.61,28.64 L378.99,28.55 L379.36,28.47 L379.74,28.4 L380.11,28.33 L380.49,28.26 L380.86,28.2 L381.24,28.13 L381.62,28.07 L381.99,28 L382.03,27.99 L382.37,27.93 L382.74,27.86 L383.12,27.79 L383.49,27.72 L383.87,27.65 L384.24,27.58 L384.62,27.52 L384.99,27.45 L385.37,27.38 L385.74,27.32 L386.12,27.25 L386.49,27.19 L386.87,27.13 L387.24,27.06 L387.62,27 L387.99,26.94 L388.37,26.88 L388.74,26.82 L389.12,26.76 L389.49,26.71 L389.87,26.65 L390.24,26.59 L390.62,26.54 L390.99,26.49 L391.37,26.44 L391.75,26.38 L392.12,26.34 L392.5,26.29 L392.87,26.24 L393.25,26.2 L393.62,26.15 L394,26.11 L394.37,26.07 L394.75,26.03 L395.12,25.99 L395.5,25.95 L395.87,25.92 L396.25,25.89 L396.62,25.85 L397,25.82" fill="none" stroke="#00ffff" stroke-width="1.4000000000000001" stroke-linejoin="round" stroke-linecap="butt" />
<path d="M247.3,122.3 L247.68,121.94 L248.05,121.58 L248.43,121.22 L248.8,120.87 L249.18,120.51 L249.55,120.16 L249.93,119.81 L250.3,119.47 L250.68,119.13 L251.05,118.79 L251.43,118.45 L251.8,118.12 L252.18,117.79 L252.55,117.46 L252.93,117.13 L253.3,116.81 L253.68,116.49 L254.05,116.18 L254.43,115.86 L254.8,115.56 L255.18,115.25 L255.55,114.95 L255.93,114.65 L256.3,114.35 L256.68,114.06 L257.05,113.77 L257.43,113.49 L257.81,113.2 L258.18,112.93 L258.56,112.65 L258.93,112.38 L259.31,112.12 L259.68,111.85 L260.06,111.6 L260.43,111.34 L260.81,111.09 L261.07,110.92 L261.18,110.85 L261.56,110.61 L261.93,110.37 L262.31,110.13 L262.68,109.9 L263.06,109.68 L263.43,109.46 L263.81,109.24 L264.18,109.02 L264.56,108.81 L264.93,108.6 L265.31,108.39 L265.68,108.19 L266.06,107.98 L266.43,107.78 L266.81,107.59 L267.18,107.39 L267.56,107.19 L267.94,107 L268.31,106.81 L268.69,106.62 L269.06,106.43 L269.44,106.24 L269.81,106.05 L270.19,105.86 L270.56,105.67 L270.94,105.48 L271.31,105.3 L271.69,105.11 L272.06,104.92 L272.44,104.73 L272.81,104.54 L273.19,104.35 L273.56,104.16 L273.94,103.96 L274.31,103.77 L274.69,103.57 L275.06,103.37 L275.14,103.33 L275.44,103.17 L275.81,102.97 L276.19,102.77 L276.56,102.57 L276.94,102.38 L277.31,102.18 L277.69,101.98 L278.06,101.78 L278.44,101.58 L278.82,101.38 L279.19,101.19 L279.57,100.99 L279.94,100.79 L280.32,100.59 L280.69,100.39 L281.07,100.2 L281.44,100 L281.82,99.8 L282.19,99.61 L282.57,99.41 L282.94,99.21 L283.32,99.02 L283.69,98.82 L284.07,98.62 L284.44,98.43 L284.82,98.23 L285.19,98.04 L285.57,97.84 L285.94,97.64 L286.32,97.45 L286.69,97.25 L287.07,97.06 L287.44,96.86 L287.82,96.66 L288.19,96.47 L288.57,96.27 L288.95,96.08 L289.32,95.88 L289.7,95.69 L290.07,95.49 L290.45,95.3 L290.82,95.1 L291.2,94.91 L291.57,94.71 L291.95,94.52 L292.32,94.32 L292.7,94.12 L293.07,93.93 L293.45,93.73 L293.82,93.54 L294.2,93.34 L294.57,93.15 L294.95,92.95 L295.32,92.76 L295.7,92.56 L296.07,92.37 L296.45,92.17 L296.82,91.97 L297.2,91.78 L297.57,91.58 L297.95,91.39 L298.32,91.19 L298.7,90.99 L299.08,90.8 L299.45,90.6 L299.83,90.4 L300.2,90.21 L300.58,90.01 L300.95,89.81 L301.33,89.62 L301.7,89.42 L302.08,89.22 L302.45,89.03 L302.83,88.83 L303.2,88.63 L303.58,88.43 L303.95,88.24 L304.33,88.04 L304.7,87.84 L305.08,87.64 L305.45,87.44 L305.83,87.24 L306.2,87.05 L306.58,86.85 L306.95,86.65 L307.18,86.53 L307.33,86.45 L307.7,86.25 L308.08,86.05 L308.45,85.85 L308.83,85.66 L309.21,85.46 L309.58,85.26 L309.96,85.07 L310.33,84.87 L310.71,84.67 L311.08,84.48 L311.46,84.28 L311.83,84.09 L312.21,83.9 L312.58,83.7 L312.96,83.51 L313.33,83.32 L313.71,83.12 L314.08,82.93 L314.46,82.74 L314.83,82.55 L315.21,82.36 L315.58,82.16 L315.96,81.97 L316.33,81.78 L316.71,81.59 L317.08,81.4 L317.46,81.21 L317.83,81.02 L318.21,80.83 L318.58,80.64 L318.96,80.45 L319.34,80.26 L319.71,80.07 L320.09,79.88 L320.46,79.69 L320.84,79.5 L321.21,79.31 L321.59,79.12 L321.96,78.93 L322.34,78.74 L322.71,78.55 L323.09,78.36 L323.46,78.17 L323.84,77.98 L324.21,77.79 L324.59,77.6 L324.96,77.41 L325.34,77.22 L325.71,77.03 L326.09,76.84 L326.46,76.65 L326.84,76.46 L327.21,76.27 L327.59,76.08 L327.96,75.89 L328.34,75.7 L328.71,75.51 L329.09,75.32 L329.46,75.12 L329.84,74.93 L330.22,74.74 L330.59,74.55 L330.97,74.35 L331.34,74.16 L331.72,73.97 L332.09,73.77 L332.47,73.58 L332.84,73.38 L333.22,73.19 L333.59,72.99 L333.97,72.8 L334.34,72.6 L334.72,72.4 L335.09,72.2 L335.47,72.01 L335.84,71.81 L336.22,71.61 L336.59,71.41 L336.97,71.21 L337.34,71.01 L337.72,70.81 L338.09,70.61 L338.47,70.41 L338.84,70.2 L339.22,70 L339.59,69.8 L339.97,69.59 L340.35,69.39 L340.72,69.18 L341.1,68.98 L341.47,68.77 L341.85,68.56 L342.22,68.35 L342.6,68.14 L342.97,67.93 L343.35,67.72 L343.72,67.51 L344.1,67.3 L344.47,67.09 L344.85,66.88 L345.22,66.66 L345.6,66.45 L345.97,66.23 L346.35,66.01 L346.72,65.8 L347.1,65.58 L347.47,65.36 L347.85,65.14 L348.22,64.92 L348.6,64.7 L348.97,64.47 L349.35,64.25 L349.72,64.02 L350.1,63.8 L350.48,63.57 L350.85,63.34 L351.23,63.12 L351.6,62.89 L351.98,62.66 L352.35,62.42 L352.73,62.19 L353.1,61.96 L353.48,61.72 L353.85,61.49 L354.23,61.25 L354.6,61.01 L354.98,60.77 L355.35,60.53 L355.38,60.51 L355.73,60.29 L356.1,60.04 L356.48,59.8 L356.85,59.55 L357.23,59.3 L357.6,59.05 L357.98,58.79 L358.35,58.53 L358.73,58.27 L359.1,58.01 L359.48,57.75 L359.85,57.49 L360.23,57.22 L360.61,56.95 L360.98,56.68 L361.36,56.41 L361.73,56.13 L362.11,55.86 L362.48,55.58 L362.86,55.3 L363.23,55.02 L363.61,54.74 L363.98,54.45 L364.36,54.17 L364.73,53.88 L365.11,53.59 L365.48,53.3 L365.86,53.01 L366.23,52.71 L366.61,52.42 L366.98,52.12 L367.36,51.82 L367.73,51.52 L368.11,51.22 L368.48,50.92 L368.86,50.62 L369.23,50.31 L369.61,50.01 L369.98,49.7 L370.35,49.4 L370.36,49.39 L370.73,49.08 L371.11,48.77 L371.49,48.46 L371.86,48.15 L372.24,47.83 L372.61,47.51 L372.99,47.19 L373.36,46.86 L373.74,46.54 L374.11,46.21 L374.49,45.88 L374.86,45.54 L375.24,45.2 L375.61,44.86 L375.99,44.52 L376.36,44.17 L376.74,43.82 L377.11,43.46 L377.49,43.1 L377.86,42.74 L378.24,42.37 L378.61,42 L378.99,41.62 L379.33,41.27 L379.36,41.24 L379.74,40.84 L380.11,40.41 L380.49,39.96 L380.86,39.49 L381.24,39.01 L381.62,38.52 L381.99,38.02 L382.37,37.53 L382.74,37.03 L383.12,36.55 L383.49,36.08 L383.87,35.63 L384.24,35.2 L384.62,34.8 L384.99,34.43 L385.37,34.1 L385.74,33.81 L385.92,33.68 L386.12,33.55 L386.49,33.32 L386.87,33.09 L387.24,32.87 L387.62,32.67 L387.99,32.48 L388.37,32.3 L388.74,32.13 L389.12,31.97 L389.49,31.82 L389.87,31.69 L390.24,31.57 L390.41,31.52 L390.62,31.45 L390.99,31.34 L391.37,31.23 L391.75,31.13 L392.12,31.02 L392.5,30.92 L392.87,30.83 L393.25,30.73 L393.62,30.65 L394,30.56 L394.37,30.49 L394.75,30.42 L395.12,30.35 L395.5,30.3 L395.87,30.25 L396.25,30.21 L396.62,30.18 L397,30.16" fill="none" stroke="#ff00ff" stroke-width="1.4000000000000001" stroke-linejoin="round" stroke-linecap="butt" />
<path d="M247.3,122.3 L247.68,122.05 L248.05,121.81 L248.43,121.57 L248.8,121.32 L249.18,121.08 L249.55,120.83 L249.93,120.59 L250.3,120.35 L250.68,120.11 L251.05,119.86 L251.43,119.62 L251.8,119.38 L252.18,119.14 L252.55,118.9 L252.93,118.66 L253.3,118.42 L253.68,118.18 L254.05,117.94 L254.43,117.7 L254.8,117.46 L255.18,117.23 L255.55,116.99 L255.93,116.75 L256.3,116.52 L256.68,116.28 L257.05,116.05 L257.43,115.81 L257.81,115.58 L258.18,115.34 L258.56,115.11 L258.93,114.87 L259.31,114.64 L259.68,114.41 L260.06,114.18 L260.43,113.94 L260.81,113.71 L261.18,113.48 L261.56,113.25 L261.93,113.02 L262.31,112.79 L262.68,112.56 L263.06,112.33 L263.43,112.11 L263.81,111.88 L264.18,111.65 L264.56,111.42 L264.93,111.2 L265.31,110.97 L265.68,110.75 L266.06,110.52 L266.43,110.3 L266.81,110.07 L267.18,109.85 L267.56,109.63 L267.94,109.4 L268.31,109.18 L268.69,108.96 L269.06,108.74 L269.44,108.52 L269.81,108.3 L270.19,108.08 L270.56,107.86 L270.94,107.64 L271.31,107.42 L271.69,107.21 L272.06,106.99 L272.44,106.77 L272.81,106.56 L273.19,106.34 L273.56,106.13 L273.94,105.91 L274.31,105.7 L274.69,105.49 L275.06,105.27 L275.14,105.23 L275.44,105.06 L275.81,104.85 L276.19,104.64 L276.56,104.43 L276.94,104.22 L277.31,104.01 L277.69,103.8 L278.06,103.59 L278.44,103.38 L278.82,103.18 L279.19,102.97 L279.57,102.76 L279.94,102.56 L280.32,102.35 L280.69,102.15 L281.07,101.94 L281.44,101.74 L281.82,101.54 L282.19,101.33 L282.57,101.13 L282.94,100.93 L283.32,100.73 L283.69,100.53 L284.07,100.33 L284.44,100.13 L284.82,99.93 L285.19,99.73 L285.57,99.53 L285.94,99.33 L286.32,99.13 L286.69,98.93 L287.07,98.74 L287.44,98.54 L287.82,98.34 L288.19,98.14 L288.57,97.95 L288.95,97.75 L289.32,97.56 L289.7,97.36 L290.07,97.17 L290.45,96.97 L290.82,96.78 L291.2,96.58 L291.57,96.39 L291.95,96.19 L292.32,96 L292.7,95.81 L293.07,95.61 L293.45,95.42 L293.82,95.23 L294.2,95.04 L294.57,94.84 L294.95,94.65 L295.32,94.46 L295.7,94.27 L296.07,94.08 L296.45,93.88 L296.82,93.69 L297.2,93.5 L297.57,93.31 L297.95,93.12 L298.32,92.93 L298.7,92.74 L299.08,92.55 L299.45,92.36 L299.83,92.16 L300.2,91.97 L300.58,91.78 L300.95,91.59 L301.33,91.4 L301.7,91.21 L302.08,91.02 L302.45,90.83 L302.83,90.64 L303.2,90.45 L303.58,90.26 L303.95,90.07 L304.33,89.88 L304.7,89.69 L305.08,89.5 L305.45,89.3 L305.83,89.11 L306.2,88.92 L306.58,88.73 L306.95,88.54 L307.18,88.42 L307.33,88.35 L307.7,88.16 L308.08,87.97 L308.45,87.78 L308.83,87.59 L309.21,87.4 L309.58,87.21 L309.96,87.03 L310.33,86.84 L310.71,86.65 L311.08,86.47 L311.46,86.29 L311.83,86.1 L312.21,85.92 L312.58,85.73 L312.96,85.55 L313.33,85.37 L313.71,85.19 L314.08,85.01 L314.46,84.83 L314.83,84.65 L315.21,84.47 L315.58,84.29 L315.96,84.11 L316.33,83.93 L316.71,83.75 L317.08,83.57 L317.46,83.4 L317.83,83.22 L318.21,83.04 L318.58,82.86 L318.96,82.69 L319.34,82.51 L319.71,82.34 L320.09,82.16 L320.46,81.98 L320.84,81.81 L321.21,81.63 L321.59,81.46 L321.96,81.28 L322.34,81.11 L322.71,80.93 L323.09,80.76 L323.46,80.59 L323.84,80.41 L324.21,80.24 L324.59,80.06 L324.96,79.89 L325.34,79.71 L325.71,79.54 L326.09,79.37 L326.46,79.19 L326.84,79.02 L327.21,78.84 L327.59,78.67 L327.96,78.5 L328.34,78.32 L328.71,78.15 L329.09,77.97 L329.46,77.8 L329.84,77.62 L330.22,77.45 L330.59,77.27 L330.97,77.1 L331.34,76.92 L331.72,76.74 L332.09,76.57 L332.47,76.39 L332.84,76.22 L333.22,76.04 L333.59,75.86 L333.97,75.68 L334.34,75.51 L334.72,75.33 L335.09,75.15 L335.47,74.97 L335.84,74.79 L336.22,74.61 L336.59,74.43 L336.97,74.25 L337.34,74.07 L337.72,73.89 L338.09,73.71 L338.47,73.52 L338.84,73.34 L339.22,73.16 L339.59,72.97 L339.97,72.79 L340.35,72.61 L340.72,72.42 L341.1,72.23 L341.47,72.05 L341.85,71.86 L342.22,71.67 L342.6,71.48 L342.97,71.29 L343.35,71.1 L343.72,70.91 L344.1,70.72 L344.47,70.53 L344.85,70.34 L345.22,70.15 L345.6,69.95 L345.97,69.76 L346.35,69.56 L346.72,69.36 L347.1,69.17 L347.47,68.97 L347.85,68.77 L348.22,68.57 L348.6,68.37 L348.97,68.17 L349.35,67.97 L349.72,67.76 L350.1,67.56 L350.48,67.35 L350.85,67.15 L351.23,66.94 L351.6,66.73 L351.98,66.52 L352.35,66.31 L352.73,66.1 L353.1,65.89 L353.48,65.68 L353.85,65.46 L354.23,65.25 L354.6,65.03 L354.98,64.81 L355.35,64.59 L355.38,64.58 L355.73,64.37 L356.1,64.15 L356.48,63.92 L356.85,63.69 L357.23,63.46 L357.6,63.23 L357.98,62.99 L358.35,62.75 L358.73,62.51 L359.1,62.26 L359.48,62.01 L359.85,61.77 L360.23,61.52 L360.61,61.26 L360.98,61.01 L361.36,60.76 L361.73,60.5 L362.11,60.24 L362.48,59.98 L362.86,59.73 L363.23,59.47 L363.61,59.21 L363.98,58.94 L364.36,58.68 L364.73,58.42 L365.11,58.16 L365.48,57.9 L365.86,57.64 L366.23,57.37 L366.61,57.11 L366.98,56.85 L367.36,56.59 L367.73,56.33 L368.11,56.07 L368.48,55.81 L368.86,55.56 L369.23,55.3 L369.61,55.05 L369.98,54.8 L370.35,54.55 L370.36,54.54 L370.73,54.29 L371.11,54.04 L371.49,53.8 L371.86,53.55 L372.24,53.3 L372.61,53.05 L372.99,52.8 L373.36,52.55 L373.74,52.31 L374.11,52.06 L374.49,51.81 L374.86,51.56 L375.24,51.32 L375.61,51.07 L375.99,50.82 L376.36,50.57 L376.74,50.33 L377.11,50.08 L377.49,49.83 L377.86,49.58 L378.24,49.34 L378.61,49.09 L378.99,48.84 L379.36,48.59 L379.74,48.34 L380.11,48.09 L380.49,47.85 L380.86,47.6 L381.24,47.35 L381.62,47.09 L381.99,46.84 L382.37,46.59 L382.74,46.34 L383.12,46.09 L383.49,45.83 L383.87,45.58 L384.24,45.33 L384.62,45.07 L384.99,44.81 L385.02,44.79 L385.37,44.56 L385.74,44.3 L386.12,44.04 L386.49,43.79 L386.87,43.53 L387.24,43.27 L387.62,43.01 L387.99,42.75 L388.37,42.49 L388.74,42.23 L389.12,41.97 L389.49,41.71 L389.87,41.44 L390.24,41.18 L390.62,40.92 L390.99,40.66 L391.37,40.39 L391.75,40.13 L392.12,39.86 L392.5,39.6 L392.87,39.33 L393.25,39.07 L393.62,38.8 L394,38.54 L394.37,38.27 L394.75,38 L395.12,37.74 L395.5,37.47 L395.87,37.2 L396.25,36.93 L396.62,36.66 L397,36.39" fill="none" stroke="#ffff00" stroke-width="1.4000000000000001" stroke-linejoin="round" stroke-linecap="butt" />
<path d="M247.3,122.3 L249.84,120.85 L252.37,119.4 L254.91,117.96 L257.45,116.52 L259.99,115.09 L262.52,113.66 L265.06,112.24 L267.6,110.82 L270.14,109.41 L272.67,108.01 L275.21,106.61 L277.75,105.21 L280.28,103.82 L282.82,102.44 L285.36,101.06 L287.9,99.68 L290.43,98.31 L292.97,96.95 L295.51,95.59 L298.05,94.24 L300.58,92.89 L303.12,91.55 L305.66,90.21 L308.19,88.88 L310.73,87.56 L313.27,86.23 L315.81,84.92 L318.34,83.61 L320.88,82.3 L323.42,81 L325.95,79.71 L328.49,78.42 L331.03,77.14 L333.57,75.86 L336.1,74.58 L338.64,73.32 L341.18,72.05 L343.72,70.79 L346.25,69.54 L348.79,68.3 L351.33,67.05 L353.86,65.82 L356.4,64.59 L358.94,63.36 L361.48,62.14 L364.01,60.92 L366.55,59.71 L369.09,58.51 L371.63,57.31 L374.16,56.12 L376.7,54.93 L379.24,53.74 L381.77,52.57 L384.31,51.39 L386.85,50.22 L389.39,49.06 L391.92,47.91 L394.46,46.75 L397,45.61" fill="none" stroke="#808000" stroke-width="1.4" stroke-linejoin="round" stroke-linecap="butt" />
<path d="M247.3,122.3 L249.84,120.96 L252.37,119.62 L254.91,118.29 L257.45,116.97 L259.99,115.65 L262.52,114.33 L265.06,113.02 L267.6,111.71 L270.14,110.41 L272.67,109.12 L275.21,107.83 L277.75,106.54 L280.28,105.26 L282.82,103.98 L285.36,102.71 L287.9,101.44 L290.43,100.18 L292.97,98.92 L295.51,97.67 L298.05,96.42 L300.58,95.18 L303.12,93.94 L305.66,92.71 L308.19,91.48 L310.73,90.26 L313.27,89.04 L315.81,87.82 L318.34,86.62 L320.88,85.41 L323.42,84.21 L325.95,83.02 L328.49,81.83 L331.03,80.65 L333.57,79.47 L336.1,78.29 L338.64,77.12 L341.18,75.96 L343.72,74.8 L346.25,73.64 L348.79,72.49 L351.33,71.35 L353.86,70.21 L356.4,69.07 L358.94,67.94 L361.48,66.82 L364.01,65.7 L366.55,64.58 L369.09,63.47 L371.63,62.36 L374.16,61.26 L376.7,60.16 L379.24,59.07 L381.77,57.99 L384.31,56.9 L386.85,55.83 L389.39,54.76 L391.92,53.69 L394.46,52.63 L397,51.57" fill="none" stroke="#000080" stroke-width="1.4" stroke-linejoin="round" stroke-linecap="butt" />
<path d="M247.3,122.3 L249.84,121.13 L252.37,119.96 L254.91,118.8 L257.45,117.64 L259.99,116.49 L262.52,115.34 L265.06,114.19 L267.6,113.05 L270.14,111.92 L272.67,110.78 L275.21,109.66 L277.75,108.53 L280.28,107.41 L282.82,106.3 L285.36,105.19 L287.9,104.08 L290.43,102.98 L292.97,101.88 L295.51,100.78 L298.05,99.69 L300.58,98.61 L303.12,97.53 L305.66,96.45 L308.19,95.38 L310.73,94.31 L313.27,93.24 L315.81,92.18 L318.34,91.13 L320.88,90.08 L323.42,89.03 L325.95,87.99 L328.49,86.95 L331.03,85.91 L333.57,84.88 L336.1,83.86 L338.64,82.84 L341.18,81.82 L343.72,80.8 L346.25,79.8 L348.79,78.79 L351.33,77.79 L353.86,76.79 L356.4,75.8 L358.94,74.82 L361.48,73.83 L364.01,72.85 L366.55,71.88 L369.09,70.91 L371.63,69.94 L374.16,68.98 L376.7,68.02 L379.24,67.07 L381.77,66.12 L384.31,65.17 L386.85,64.23 L389.39,63.3 L391.92,62.36 L394.46,61.44 L397,60.51" fill="none" stroke="#800080" stroke-width="1.4" stroke-linejoin="round" stroke-linecap="butt" />
<path d="M247.3,122.3 L249.84,121.27 L252.37,120.24 L254.91,119.21 L257.45,118.19 L259.99,117.18 L262.52,116.16 L265.06,115.15 L267.6,114.15 L270.14,113.15 L272.67,112.15 L275.21,111.15 L277.75,110.16 L280.28,109.18 L282.82,108.19 L285.36,107.21 L287.9,106.24 L290.43,105.26 L292.97,104.3 L295.51,103.33 L298.05,102.37 L300.58,101.41 L303.12,100.46 L305.66,99.51 L308.19,98.56 L310.73,97.62 L313.27,96.68 L315.81,95.75 L318.34,94.82 L320.88,93.89 L323.42,92.97 L325.95,92.05 L328.49,91.13 L331.03,90.22 L333.57,89.31 L336.1,88.41 L338.64,87.51 L341.18,86.61 L343.72,85.72 L346.25,84.83 L348.79,83.94 L351.33,83.06 L353.86,82.18 L356.4,81.31 L358.94,80.44 L361.48,79.57 L364.01,78.71 L366.55,77.85 L369.09,76.99 L371.63,76.14 L374.16,75.29 L376.7,74.45 L379.24,73.61 L381.77,72.77 L384.31,71.94 L386.85,71.11 L389.39,70.28 L391.92,69.46 L394.46,68.64 L397,67.83" fill="none" stroke="#800000" stroke-width="1.4" stroke-linejoin="round" stroke-linecap="butt" />
<path d="M247.3,122.3 L249.84,121.36 L252.37,120.42 L254.91,119.49 L257.45,118.56 L259.99,117.64 L262.52,116.71 L265.06,115.79 L267.6,114.88 L270.14,113.97 L272.67,113.06 L275.21,112.15 L277.75,111.25 L280.28,110.35 L282.82,109.46 L285.36,108.56 L287.9,107.67 L290.43,106.79 L292.97,105.91 L295.51,105.03 L298.05,104.16 L300.58,103.28 L303.12,102.42 L305.66,101.55 L308.19,100.69 L310.73,99.83 L313.27,98.98 L315.81,98.13 L318.34,97.28 L320.88,96.44 L323.42,95.6 L325.95,94.76 L328.49,93.92 L331.03,93.09 L333.57,92.27 L336.1,91.44 L338.64,90.62 L341.18,89.81 L343.72,88.99 L346.25,88.18 L348.79,87.38 L351.33,86.58 L353.86,85.78 L356.4,84.98 L358.94,84.19 L361.48,83.4 L364.01,82.61 L366.55,81.83 L369.09,81.05 L371.63,80.27 L374.16,79.5 L376.7,78.73 L379.24,77.97 L381.77,77.21 L384.31,76.45 L386.85,75.69 L389.39,74.94 L391.92,74.19 L394.46,73.45 L397,72.71" fill="none" stroke="#008000" stroke-width="1.4" stroke-linejoin="round" stroke-linecap="butt" />
<path d="M247.3,122.3 L249.84,121.51 L252.37,120.72 L254.91,119.94 L257.45,119.15 L259.99,118.37 L262.52,117.6 L265.06,116.82 L267.6,116.05 L270.14,115.29 L272.67,114.52 L275.21,113.76 L277.75,113 L280.28,112.24 L282.82,111.49 L285.36,110.74 L287.9,109.99 L290.43,109.25 L292.97,108.51 L295.51,107.77 L298.05,107.03 L300.58,106.3 L303.12,105.57 L305.66,104.84 L308.19,104.11 L310.73,103.39 L313.27,102.67 L315.81,101.96 L318.34,101.25 L320.88,100.54 L323.42,99.83 L325.95,99.12 L328.49,98.42 L331.03,97.72 L333.57,97.03 L336.1,96.33 L338.64,95.64 L341.18,94.96 L343.72,94.27 L346.25,93.59 L348.79,92.91 L351.33,92.24 L353.86,91.56 L356.4,90.89 L358.94,90.23 L361.48,89.56 L364.01,88.9 L366.55,88.24 L369.09,87.59 L371.63,86.93 L374.16,86.28 L376.7,85.64 L379.24,84.99 L381.77,84.35 L384.31,83.71 L386.85,83.08 L389.39,82.45 L391.92,81.82 L394.46,81.19 L397,80.57" fill="none" stroke="#008080" stroke-width="1.4" stroke-linejoin="round" stroke-linecap="butt" />
<path d="M247.3,122.3 L249.84,121.63 L252.37,120.96 L254.91,120.29 L257.45,119.62 L259.99,118.96 L262.52,118.3 L265.06,117.64 L267.6,116.99 L270.14,116.33 L272.67,115.68 L275.21,115.03 L277.75,114.39 L280.28,113.75 L282.82,113.11 L285.36,112.47 L287.9,111.83 L290.43,111.2 L292.97,110.57 L295.51,109.94 L298.05,109.31 L300.58,108.69 L303.12,108.07 L305.66,107.45 L308.19,106.83 L310.73,106.22 L313.27,105.61 L315.81,105 L318.34,104.39 L320.88,103.79 L323.42,103.18 L325.95,102.58 L328.49,101.99 L331.03,101.39 L333.57,100.8 L336.1,100.21 L338.64,99.63 L341.18,99.04 L343.72,98.46 L346.25,97.88 L348.79,97.3 L351.33,96.73 L353.86,96.15 L356.4,95.58 L358.94,95.02 L361.48,94.45 L364.01,93.89 L366.55,93.33 L369.09,92.77 L371.63,92.22 L374.16,91.66 L376.7,91.11 L379.24,90.57 L381.77,90.02 L384.31,89.48 L386.85,88.94 L389.39,88.4 L391.92,87.86 L394.46,87.33 L397,86.8" fill="none" stroke="#0000a0" stroke-width="1.4" stroke-linejoin="round" stroke-linecap="butt" />
<path d="M247.3,122.3 L249.84,121.7 L252.37,121.11 L254.91,120.52 L257.45,119.93 L259.99,119.34 L262.52,118.76 L265.06,118.18 L267.6,117.6 L270.14,117.02 L272.67,116.44 L275.21,115.87 L277.75,115.3 L280.28,114.73 L282.82,114.16 L285.36,113.59 L287.9,113.03 L290.43,112.47 L292.97,111.91 L295.51,111.35 L298.05,110.8 L300.58,110.25 L303.12,109.7 L305.66,109.15 L308.19,108.6 L310.73,108.06 L313.27,107.52 L315.81,106.98 L318.34,106.44 L320.88,105.91 L323.42,105.37 L325.95,104.84 L328.49,104.31 L331.03,103.79 L333.57,103.26 L336.1,102.74 L338.64,102.22 L341.18,101.7 L343.72,101.19 L346.25,100.67 L348.79,100.16 L351.33,99.65 L353.86,99.15 L356.4,98.64 L358.94,98.14 L361.48,97.64 L364.01,97.14 L366.55,96.65 L369.09,96.15 L371.63,95.66 L374.16,95.17 L376.7,94.68 L379.24,94.2 L381.77,93.72 L384.31,93.24 L386.85,92.76 L389.39,92.28 L391.92,91.81 L394.46,91.33 L397,90.86" fill="none" stroke="#ff8000" stroke-width="1.4" stroke-linejoin="round" stroke-linecap="butt" />
<path d="M247.3,122.3 L249.84,121.77 L252.37,121.24 L254.91,120.72 L257.45,120.2 L259.99,119.67 L262.52,119.16 L265.06,118.64 L267.6,118.12 L270.14,117.61 L272.67,117.1 L275.21,116.59 L277.75,116.08 L280.28,115.57 L282.82,115.07 L285.36,114.57 L287.9,114.07 L290.43,113.57 L292.97,113.07 L295.51,112.58 L298.05,112.09 L300.58,111.6 L303.12,111.11 L305.66,110.62 L308.19,110.14 L310.73,109.65 L313.27,109.17 L315.81,108.69 L318.34,108.22 L320.88,107.74 L323.42,107.27 L325.95,106.8 L328.49,106.33 L331.03,105.86 L333.57,105.4 L336.1,104.93 L338.64,104.47 L341.18,104.01 L343.72,103.55 L346.25,103.1 L348.79,102.64 L351.33,102.19 L353.86,101.74 L356.4,101.29 L358.94,100.85 L361.48,100.4 L364.01,99.96 L366.55,99.52 L369.09,99.08 L371.63,98.65 L374.16,98.21 L376.7,97.78 L379.24,97.35 L381.77,96.92 L384.31,96.49 L386.85,96.07 L389.39,95.64 L391.92,95.22 L394.46,94.8 L397,94.39" fill="none" stroke="#8000ff" stroke-width="1.4" stroke-linejoin="round" stroke-linecap="butt" />
<path d="M247.3,122.3 L249.84,121.81 L252.37,121.33 L254.91,120.84 L257.45,120.36 L259.99,119.88 L262.52,119.4 L265.06,118.92 L267.6,118.45 L270.14,117.97 L272.67,117.5 L275.21,117.03 L277.75,116.56 L280.28,116.1 L282.82,115.63 L285.36,115.17 L287.9,114.71 L290.43,114.25 L292.97,113.79 L295.51,113.33 L298.05,112.88 L300.58,112.43 L303.12,111.98 L305.66,111.53 L308.19,111.08 L310.73,110.64 L313.27,110.19 L315.81,109.75 L318.34,109.31 L320.88,108.87 L323.42,108.44 L325.95,108 L328.49,107.57 L331.03,107.14 L333.57,106.71 L336.1,106.28 L338.64,105.86 L341.18,105.43 L343.72,105.01 L346.25,104.59 L348.79,104.17 L351.33,103.75 L353.86,103.34 L356.4,102.93 L358.94,102.51 L361.48,102.1 L364.01,101.7 L366.55,101.29 L369.09,100.89 L371.63,100.48 L374.16,100.08 L376.7,99.68 L379.24,99.29 L381.77,98.89 L384.31,98.5 L386.85,98.11 L389.39,97.71 L391.92,97.33 L394.46,96.94 L397,96.56" fill="none" stroke="#ff0080" stroke-width="1.4" stroke-linejoin="round" stroke-linecap="butt" />
<path d="M247.3,122.3 L249.84,121.84 L252.37,121.39 L254.91,120.93 L257.45,120.48 L259.99,120.03 L262.52,119.58 L265.06,119.14 L267.6,118.69 L270.14,118.25 L272.67,117.8 L275.21,117.36 L277.75,116.93 L280.28,116.49 L282.82,116.05 L285.36,115.62 L287.9,115.19 L290.43,114.76 L292.97,114.33 L295.51,113.9 L298.05,113.48 L300.58,113.05 L303.12,112.63 L305.66,112.21 L308.19,111.79 L310.73,111.37 L313.27,110.96 L315.81,110.54 L318.34,110.13 L320.88,109.72 L323.42,109.31 L325.95,108.91 L328.49,108.5 L331.03,108.1 L333.57,107.69 L336.1,107.29 L338.64,106.89 L341.18,106.5 L343.72,106.1 L346.25,105.71 L348.79,105.32 L351.33,104.93 L353.86,104.54 L356.4,104.15 L358.94,103.76 L361.48,103.38 L364.01,103 L366.55,102.62 L369.09,102.24 L371.63,101.86 L374.16,101.49 L376.7,101.11 L379.24,100.74 L381.77,100.37 L384.31,100 L386.85,99.63 L389.39,99.27 L391.92,98.9 L394.46,98.54 L397,98.18" fill="none" stroke="#808080" stroke-width="1.4" stroke-linejoin="round" stroke-linecap="butt" />
<rect x="247.3" y="0.8" width="179.1" height="121.5" fill="none" stroke="#000" stroke-width="1.2"/>
<line x1="247.3" y1="122.3" x2="247.3" y2="118.2" stroke="#000" stroke-width="1"/>
<line x1="307" y1="122.3" x2="307" y2="118.2" stroke="#000" stroke-width="1"/>
<line x1="366.7" y1="122.3" x2="366.7" y2="118.2" stroke="#000" stroke-width="1"/>
<line x1="426.4" y1="122.3" x2="426.4" y2="118.2" stroke="#000" stroke-width="1"/>
<line x1="277.15" y1="122.3" x2="277.15" y2="119.9" stroke="#000" stroke-width="1"/>
<line x1="336.85" y1="122.3" x2="336.85" y2="119.9" stroke="#000" stroke-width="1"/>
<line x1="396.55" y1="122.3" x2="396.55" y2="119.9" stroke="#000" stroke-width="1"/>
<text x="247.3" y="135.3" font-size="11.5" text-anchor="middle" >0</text>
<text x="307" y="135.3" font-size="11.5" text-anchor="middle" >20</text>
<text x="366.7" y="135.3" font-size="11.5" text-anchor="middle" >40</text>
<text x="426.4" y="135.3" font-size="11.5" text-anchor="middle" >60</text>
<line x1="247.3" y1="122.3" x2="251.4" y2="122.3" stroke="#000" stroke-width="1"/>
<line x1="247.3" y1="68.1" x2="251.4" y2="68.1" stroke="#000" stroke-width="1"/>
<line x1="247.3" y1="13.9" x2="251.4" y2="13.9" stroke="#000" stroke-width="1"/>
<line x1="247.3" y1="95.2" x2="249.7" y2="95.2" stroke="#000" stroke-width="1"/>
<line x1="247.3" y1="41" x2="249.7" y2="41" stroke="#000" stroke-width="1"/>
<text x="243" y="126.1" font-size="11.5" text-anchor="end" >0</text>
<text x="243" y="71.9" font-size="11.5" text-anchor="end" >20</text>
<text x="243" y="17.7" font-size="11.5" text-anchor="end" >40</text>
<clipPath id="clc"><rect x="36.9" y="152.8" width="180" height="123"/></clipPath>
<g clip-path="url(#clc)">
<path d="M41.52,275.2 L50.75,275.2 L55.36,275.2 L59.98,275.2 L64.59,275.2 L69.21,275.2 L73.82,275.2 L78.44,275.2 L83.05,275.2 L87.67,275.2 L96.9,275.2 L106.13,275.2 L124.59,275.2 L143.05,275.2 L161.52,275.2 L179.98,275.2 L198.44,275.2 L216.9,275.2" fill="none" stroke="#000000" stroke-width="0.9" stroke-linejoin="round" stroke-linecap="butt" />
<rect x="40.22" y="273.9" width="2.6" height="2.6" fill="#000000"/>
<rect x="49.45" y="273.9" width="2.6" height="2.6" fill="#000000"/>
<rect x="54.06" y="273.9" width="2.6" height="2.6" fill="#000000"/>
<rect x="58.68" y="273.9" width="2.6" height="2.6" fill="#000000"/>
<rect x="63.29" y="273.9" width="2.6" height="2.6" fill="#000000"/>
<rect x="67.91" y="273.9" width="2.6" height="2.6" fill="#000000"/>
<rect x="72.52" y="273.9" width="2.6" height="2.6" fill="#000000"/>
<rect x="77.14" y="273.9" width="2.6" height="2.6" fill="#000000"/>
<rect x="81.75" y="273.9" width="2.6" height="2.6" fill="#000000"/>
<rect x="86.37" y="273.9" width="2.6" height="2.6" fill="#000000"/>
<rect x="95.6" y="273.9" width="2.6" height="2.6" fill="#000000"/>
<rect x="104.83" y="273.9" width="2.6" height="2.6" fill="#000000"/>
<rect x="123.29" y="273.9" width="2.6" height="2.6" fill="#000000"/>
<rect x="141.75" y="273.9" width="2.6" height="2.6" fill="#000000"/>
<rect x="160.22" y="273.9" width="2.6" height="2.6" fill="#000000"/>
<rect x="178.68" y="273.9" width="2.6" height="2.6" fill="#000000"/>
<rect x="197.14" y="273.9" width="2.6" height="2.6" fill="#000000"/>
<rect x="215.6" y="273.9" width="2.6" height="2.6" fill="#000000"/>
<path d="M41.52,274.93 L50.75,274.66 L55.36,274.11 L59.98,274.52 L64.59,274.66 L69.21,274.79 L73.82,274.79 L78.44,274.93 L83.05,274.93 L87.67,274.93 L96.9,275.06 L106.13,275.06 L124.59,275.06 L143.05,275.2 L161.52,275.2 L179.98,275.2 L198.44,275.2 L216.9,275.2" fill="none" stroke="#ff0000" stroke-width="0.9" stroke-linejoin="round" stroke-linecap="butt" />
<circle cx="41.52" cy="274.93" r="1.55" fill="#ff0000"/>
<circle cx="50.75" cy="274.66" r="1.55" fill="#ff0000"/>
<circle cx="55.36" cy="274.11" r="1.55" fill="#ff0000"/>
<circle cx="59.98" cy="274.52" r="1.55" fill="#ff0000"/>
<circle cx="64.59" cy="274.66" r="1.55" fill="#ff0000"/>
<circle cx="69.21" cy="274.79" r="1.55" fill="#ff0000"/>
<circle cx="73.82" cy="274.79" r="1.55" fill="#ff0000"/>
<circle cx="78.44" cy="274.93" r="1.55" fill="#ff0000"/>
<circle cx="83.05" cy="274.93" r="1.55" fill="#ff0000"/>
<circle cx="87.67" cy="274.93" r="1.55" fill="#ff0000"/>
<circle cx="96.9" cy="275.06" r="1.55" fill="#ff0000"/>
<circle cx="106.13" cy="275.06" r="1.55" fill="#ff0000"/>
<circle cx="124.59" cy="275.06" r="1.55" fill="#ff0000"/>
<circle cx="143.05" cy="275.2" r="1.55" fill="#ff0000"/>
<circle cx="161.52" cy="275.2" r="1.55" fill="#ff0000"/>
<circle cx="179.98" cy="275.2" r="1.55" fill="#ff0000"/>
<circle cx="198.44" cy="275.2" r="1.55" fill="#ff0000"/>
<circle cx="216.9" cy="275.2" r="1.55" fill="#ff0000"/>
<path d="M41.52,271.8 L50.75,270.71 L55.36,268.4 L59.98,269.76 L64.59,270.71 L69.21,271.53 L73.82,272.21 L78.44,272.75 L83.05,273.16 L87.67,273.57 L96.9,274.11 L106.13,274.52 L124.59,274.79 L143.05,274.93 L161.52,275.06 L179.98,275.06 L198.44,275.06 L216.9,275.06" fill="none" stroke="#0000ff" stroke-width="0.9" stroke-linejoin="round" stroke-linecap="butt" />
<polygon points="41.52,269.67 43.64,273.4 39.39,273.4" fill="#0000ff"/>
<polygon points="50.75,268.58 52.87,272.31 48.62,272.31" fill="#0000ff"/>
<polygon points="55.36,266.27 57.49,270 53.23,270" fill="#0000ff"/>
<polygon points="59.98,267.63 62.1,271.36 57.85,271.36" fill="#0000ff"/>
<polygon points="64.59,268.58 66.72,272.31 62.46,272.31" fill="#0000ff"/>
<polygon points="69.21,269.4 71.34,273.12 67.08,273.12" fill="#0000ff"/>
<polygon points="73.82,270.08 75.95,273.8 71.7,273.8" fill="#0000ff"/>
<polygon points="78.44,270.62 80.57,274.35 76.31,274.35" fill="#0000ff"/>
<polygon points="83.05,271.03 85.18,274.76 80.93,274.76" fill="#0000ff"/>
<polygon points="87.67,271.44 89.8,275.16 85.54,275.16" fill="#0000ff"/>
<polygon points="96.9,271.98 99.03,275.71 94.77,275.71" fill="#0000ff"/>
<polygon points="106.13,272.39 108.26,276.12 104,276.12" fill="#0000ff"/>
<polygon points="124.59,272.66 126.72,276.39 122.46,276.39" fill="#0000ff"/>
<polygon points="143.05,272.8 145.18,276.52 140.93,276.52" fill="#0000ff"/>
<polygon points="161.52,272.94 163.64,276.66 159.39,276.66" fill="#0000ff"/>
<polygon points="179.98,272.94 182.1,276.66 177.85,276.66" fill="#0000ff"/>
<polygon points="198.44,272.94 200.57,276.66 196.31,276.66" fill="#0000ff"/>
<polygon points="216.9,272.94 219.03,276.66 214.77,276.66" fill="#0000ff"/>
<path d="M41.52,267.58 L50.75,263.64 L55.36,259.97 L59.98,262.55 L64.59,265 L69.21,266.77 L73.82,268.4 L78.44,269.49 L83.05,270.44 L87.67,271.12 L96.9,272.48 L106.13,273.3 L124.59,274.25 L143.05,274.66 L161.52,274.79 L179.98,274.93 L198.44,274.93 L216.9,274.93" fill="none" stroke="#ff00ff" stroke-width="0.9" stroke-linejoin="round" stroke-linecap="butt" />
<polygon points="41.52,269.71 43.64,265.99 39.39,265.99" fill="#ff00ff"/>
<polygon points="50.75,265.77 52.87,262.04 48.62,262.04" fill="#ff00ff"/>
<polygon points="55.36,262.1 57.49,258.37 53.23,258.37" fill="#ff00ff"/>
<polygon points="59.98,264.68 62.1,260.96 57.85,260.96" fill="#ff00ff"/>
<polygon points="64.59,267.13 66.72,263.4 62.46,263.4" fill="#ff00ff"/>
<polygon points="69.21,268.9 71.34,265.17 67.08,265.17" fill="#ff00ff"/>
<polygon points="73.82,270.53 75.95,266.8 71.7,266.8" fill="#ff00ff"/>
<polygon points="78.44,271.62 80.57,267.89 76.31,267.89" fill="#ff00ff"/>
<polygon points="83.05,272.57 85.18,268.84 80.93,268.84" fill="#ff00ff"/>
<polygon points="87.67,273.25 89.8,269.52 85.54,269.52" fill="#ff00ff"/>
<polygon points="96.9,274.61 99.03,270.88 94.77,270.88" fill="#ff00ff"/>
<polygon points="106.13,275.42 108.26,271.7 104,271.7" fill="#ff00ff"/>
<polygon points="124.59,276.38 126.72,272.65 122.46,272.65" fill="#ff00ff"/>
<polygon points="143.05,276.78 145.18,273.06 140.93,273.06" fill="#ff00ff"/>
<polygon points="161.52,276.92 163.64,273.2 159.39,273.2" fill="#ff00ff"/>
<polygon points="179.98,277.06 182.1,273.33 177.85,273.33" fill="#ff00ff"/>
<polygon points="198.44,277.06 200.57,273.33 196.31,273.33" fill="#ff00ff"/>
<polygon points="216.9,277.06 219.03,273.33 214.77,273.33" fill="#ff00ff"/>
<path d="M41.52,260.65 L50.75,253.98 L55.36,248.41 L59.98,252.76 L64.59,256.57 L69.21,259.56 L73.82,262.01 L78.44,264.05 L83.05,265.68 L87.67,267.04 L96.9,269.35 L106.13,270.85 L124.59,272.48 L143.05,273.57 L161.52,274.11 L179.98,274.38 L198.44,274.52 L216.9,274.66" fill="none" stroke="#008000" stroke-width="0.9" stroke-linejoin="round" stroke-linecap="butt" />
<polygon points="41.52,258.41 43.76,260.65 41.52,262.89 39.27,260.65" fill="#008000"/>
<polygon points="50.75,251.74 52.99,253.98 50.75,256.23 48.5,253.98" fill="#008000"/>
<polygon points="55.36,246.17 57.6,248.41 55.36,250.65 53.12,248.41" fill="#008000"/>
<polygon points="59.98,250.52 62.22,252.76 59.98,255 57.73,252.76" fill="#008000"/>
<polygon points="64.59,254.33 66.83,256.57 64.59,258.81 62.35,256.57" fill="#008000"/>
<polygon points="69.21,257.32 71.45,259.56 69.21,261.8 66.97,259.56" fill="#008000"/>
<polygon points="73.82,259.77 76.07,262.01 73.82,264.25 71.58,262.01" fill="#008000"/>
<polygon points="78.44,261.81 80.68,264.05 78.44,266.29 76.2,264.05" fill="#008000"/>
<polygon points="83.05,263.44 85.3,265.68 83.05,267.92 80.81,265.68" fill="#008000"/>
<polygon points="87.67,264.8 89.91,267.04 87.67,269.28 85.43,267.04" fill="#008000"/>
<polygon points="96.9,267.11 99.14,269.35 96.9,271.59 94.66,269.35" fill="#008000"/>
<polygon points="106.13,268.61 108.37,270.85 106.13,273.09 103.89,270.85" fill="#008000"/>
<polygon points="124.59,270.24 126.83,272.48 124.59,274.72 122.35,272.48" fill="#008000"/>
<polygon points="143.05,271.33 145.3,273.57 143.05,275.81 140.81,273.57" fill="#008000"/>
<polygon points="161.52,271.87 163.76,274.11 161.52,276.35 159.27,274.11" fill="#008000"/>
<polygon points="179.98,272.14 182.22,274.38 179.98,276.63 177.73,274.38" fill="#008000"/>
<polygon points="198.44,272.28 200.68,274.52 198.44,276.76 196.2,274.52" fill="#008000"/>
<polygon points="216.9,272.41 219.14,274.66 216.9,276.9 214.66,274.66" fill="#008000"/>
<path d="M41.52,252.62 L50.75,243.38 L55.36,235.76 L59.98,241.47 L64.59,246.1 L69.21,249.36 L73.82,252.62 L78.44,255.48 L83.05,258.2 L87.67,260.51 L96.9,264.05 L106.13,266.77 L124.59,269.49 L143.05,271.53 L161.52,273.16 L179.98,273.7 L198.44,273.98 L216.9,274.25" fill="none" stroke="#000080" stroke-width="0.9" stroke-linejoin="round" stroke-linecap="butt" />
<polygon points="39.39,252.62 43.11,250.5 43.11,254.75" fill="#000080"/>
<polygon points="48.62,243.38 52.34,241.25 52.34,245.5" fill="#000080"/>
<polygon points="53.23,235.76 56.96,233.63 56.96,237.89" fill="#000080"/>
<polygon points="57.85,241.47 61.57,239.34 61.57,243.6" fill="#000080"/>
<polygon points="62.46,246.1 66.19,243.97 66.19,248.22" fill="#000080"/>
<polygon points="67.08,249.36 70.8,247.23 70.8,251.49" fill="#000080"/>
<polygon points="71.7,252.62 75.42,250.5 75.42,254.75" fill="#000080"/>
<polygon points="76.31,255.48 80.03,253.35 80.03,257.61" fill="#000080"/>
<polygon points="80.93,258.2 84.65,256.07 84.65,260.33" fill="#000080"/>
<polygon points="85.54,260.51 89.26,258.38 89.26,262.64" fill="#000080"/>
<polygon points="94.77,264.05 98.5,261.92 98.5,266.18" fill="#000080"/>
<polygon points="104,266.77 107.73,264.64 107.73,268.9" fill="#000080"/>
<polygon points="122.46,269.49 126.19,267.36 126.19,271.62" fill="#000080"/>
<polygon points="140.93,271.53 144.65,269.4 144.65,273.66" fill="#000080"/>
<polygon points="159.39,273.16 163.11,271.03 163.11,275.29" fill="#000080"/>
<polygon points="177.85,273.7 181.57,271.58 181.57,275.83" fill="#000080"/>
<polygon points="196.31,273.98 200.03,271.85 200.03,276.1" fill="#000080"/>
<polygon points="214.77,274.25 218.5,272.12 218.5,276.38" fill="#000080"/>
<path d="M41.52,244.74 L50.75,233.04 L55.36,221.07 L59.98,229.1 L64.59,235.08 L69.21,240.52 L73.82,245.28 L78.44,249.36 L83.05,253.17 L87.67,256.16 L96.9,260.51 L106.13,263.64 L124.59,266.9 L143.05,270.17 L161.52,271.94 L179.98,272.75 L198.44,273.3 L216.9,273.57" fill="none" stroke="#8000ff" stroke-width="0.9" stroke-linejoin="round" stroke-linecap="butt" />
<polygon points="43.64,244.74 39.92,242.61 39.92,246.86" fill="#8000ff"/>
<polygon points="52.87,233.04 49.15,230.91 49.15,235.17" fill="#8000ff"/>
<polygon points="57.49,221.07 53.77,218.94 53.77,223.2" fill="#8000ff"/>
<polygon points="62.1,229.1 58.38,226.97 58.38,231.22" fill="#8000ff"/>
<polygon points="66.72,235.08 63,232.95 63,237.21" fill="#8000ff"/>
<polygon points="71.34,240.52 67.61,238.39 67.61,242.65" fill="#8000ff"/>
<polygon points="75.95,245.28 72.23,243.15 72.23,247.41" fill="#8000ff"/>
<polygon points="80.57,249.36 76.84,247.23 76.84,251.49" fill="#8000ff"/>
<polygon points="85.18,253.17 81.46,251.04 81.46,255.3" fill="#8000ff"/>
<polygon points="89.8,256.16 86.07,254.03 86.07,258.29" fill="#8000ff"/>
<polygon points="99.03,260.51 95.3,258.38 95.3,262.64" fill="#8000ff"/>
<polygon points="108.26,263.64 104.54,261.51 104.54,265.77" fill="#8000ff"/>
<polygon points="126.72,266.9 123,264.78 123,269.03" fill="#8000ff"/>
<polygon points="145.18,270.17 141.46,268.04 141.46,272.3" fill="#8000ff"/>
<polygon points="163.64,271.94 159.92,269.81 159.92,274.06" fill="#8000ff"/>
<polygon points="182.1,272.75 178.38,270.62 178.38,274.88" fill="#8000ff"/>
<polygon points="200.57,273.3 196.84,271.17 196.84,275.42" fill="#8000ff"/>
<polygon points="219.03,273.57 215.3,271.44 215.3,275.7" fill="#8000ff"/>
<path d="M41.52,237.66 L50.75,222.43 L55.36,206.79 L59.98,215.09 L64.59,223.38 L69.21,229.91 L73.82,235.76 L78.44,241.2 L83.05,245.96 L87.67,250.04 L96.9,255.48 L106.13,259.97 L124.59,264.18 L143.05,268.13 L161.52,270.17 L179.98,271.39 L198.44,272.07 L216.9,272.62" fill="none" stroke="#800080" stroke-width="0.9" stroke-linejoin="round" stroke-linecap="butt" />
<polygon points="43.57,237.66 42.54,239.44 40.49,239.44 39.46,237.66 40.49,235.89 42.54,235.89" fill="#800080"/>
<polygon points="52.8,222.43 51.77,224.21 49.72,224.21 48.69,222.43 49.72,220.65 51.77,220.65" fill="#800080"/>
<polygon points="57.41,206.79 56.39,208.57 54.34,208.57 53.31,206.79 54.34,205.01 56.39,205.01" fill="#800080"/>
<polygon points="62.03,215.09 61,216.87 58.95,216.87 57.92,215.09 58.95,213.31 61,213.31" fill="#800080"/>
<polygon points="66.64,223.38 65.62,225.16 63.57,225.16 62.54,223.38 63.57,221.61 65.62,221.61" fill="#800080"/>
<polygon points="71.26,229.91 70.23,231.69 68.18,231.69 67.16,229.91 68.18,228.13 70.23,228.13" fill="#800080"/>
<polygon points="75.88,235.76 74.85,237.54 72.8,237.54 71.77,235.76 72.8,233.98 74.85,233.98" fill="#800080"/>
<polygon points="80.49,241.2 79.46,242.98 77.41,242.98 76.39,241.2 77.41,239.42 79.46,239.42" fill="#800080"/>
<polygon points="85.11,245.96 84.08,247.74 82.03,247.74 81,245.96 82.03,244.18 84.08,244.18" fill="#800080"/>
<polygon points="89.72,250.04 88.7,251.82 86.64,251.82 85.62,250.04 86.64,248.26 88.7,248.26" fill="#800080"/>
<polygon points="98.95,255.48 97.93,257.26 95.87,257.26 94.85,255.48 95.87,253.7 97.93,253.7" fill="#800080"/>
<polygon points="108.18,259.97 107.16,261.75 105.1,261.75 104.08,259.97 105.1,258.19 107.16,258.19" fill="#800080"/>
<polygon points="126.64,264.18 125.62,265.96 123.57,265.96 122.54,264.18 123.57,262.41 125.62,262.41" fill="#800080"/>
<polygon points="145.11,268.13 144.08,269.91 142.03,269.91 141,268.13 142.03,266.35 144.08,266.35" fill="#800080"/>
<polygon points="163.57,270.17 162.54,271.95 160.49,271.95 159.46,270.17 160.49,268.39 162.54,268.39" fill="#800080"/>
<polygon points="182.03,271.39 181,273.17 178.95,273.17 177.92,271.39 178.95,269.61 181,269.61" fill="#800080"/>
<polygon points="200.49,272.07 199.46,273.85 197.41,273.85 196.39,272.07 197.41,270.29 199.46,270.29" fill="#800080"/>
<polygon points="218.95,272.62 217.93,274.39 215.87,274.39 214.85,272.62 215.87,270.84 217.93,270.84" fill="#800080"/>
<path d="M41.52,231.82 L50.75,212.78 L55.36,193.46 L59.98,202.58 L64.59,211.01 L69.21,219.03 L73.82,225.97 L78.44,232.22 L83.05,237.8 L87.67,242.56 L96.9,249.36 L106.13,254.8 L124.59,261.19 L143.05,265.54 L161.52,268.13 L179.98,269.76 L198.44,270.71 L216.9,271.39" fill="none" stroke="#800000" stroke-width="0.9" stroke-linejoin="round" stroke-linecap="butt" />
<polygon points="41.52,229.96 42.02,231.13 43.28,231.24 42.33,232.08 42.61,233.32 41.52,232.67 40.42,233.32 40.7,232.08 39.75,231.24 41.01,231.13" fill="#800000"/>
<polygon points="50.75,210.92 51.25,212.09 52.52,212.2 51.56,213.04 51.84,214.28 50.75,213.63 49.65,214.28 49.94,213.04 48.98,212.2 50.25,212.09" fill="#800000"/>
<polygon points="55.36,191.6 55.86,192.77 57.13,192.89 56.17,193.73 56.45,194.97 55.36,194.32 54.27,194.97 54.55,193.73 53.59,192.89 54.86,192.77" fill="#800000"/>
<polygon points="59.98,200.72 60.48,201.89 61.75,202 60.79,202.84 61.07,204.08 59.98,203.43 58.88,204.08 59.17,202.84 58.21,202 59.48,201.89" fill="#800000"/>
<polygon points="64.59,209.15 65.09,210.32 66.36,210.43 65.4,211.27 65.69,212.51 64.59,211.86 63.5,212.51 63.78,211.27 62.82,210.43 64.09,210.32" fill="#800000"/>
<polygon points="69.21,217.17 69.71,218.34 70.98,218.46 70.02,219.3 70.3,220.54 69.21,219.88 68.11,220.54 68.4,219.3 67.44,218.46 68.71,218.34" fill="#800000"/>
<polygon points="73.82,224.11 74.32,225.28 75.59,225.39 74.63,226.23 74.92,227.47 73.82,226.82 72.73,227.47 73.01,226.23 72.05,225.39 73.32,225.28" fill="#800000"/>
<polygon points="78.44,230.36 78.94,231.53 80.21,231.65 79.25,232.49 79.53,233.73 78.44,233.08 77.35,233.73 77.63,232.49 76.67,231.65 77.94,231.53" fill="#800000"/>
<polygon points="83.05,235.94 83.55,237.11 84.82,237.23 83.86,238.06 84.15,239.3 83.05,238.65 81.96,239.3 82.24,238.06 81.28,237.23 82.55,237.11" fill="#800000"/>
<polygon points="87.67,240.7 88.17,241.87 89.44,241.99 88.48,242.82 88.76,244.06 87.67,243.41 86.58,244.06 86.86,242.82 85.9,241.99 87.17,241.87" fill="#800000"/>
<polygon points="96.9,247.5 97.4,248.67 98.67,248.79 97.71,249.62 97.99,250.86 96.9,250.21 95.81,250.86 96.09,249.62 95.13,248.79 96.4,248.67" fill="#800000"/>
<polygon points="106.13,252.94 106.63,254.11 107.9,254.23 106.94,255.06 107.22,256.3 106.13,255.65 105.04,256.3 105.32,255.06 104.36,254.23 105.63,254.11" fill="#800000"/>
<polygon points="124.59,259.33 125.09,260.5 126.36,260.62 125.4,261.46 125.69,262.7 124.59,262.04 123.5,262.7 123.78,261.46 122.82,260.62 124.09,260.5" fill="#800000"/>
<polygon points="143.05,263.68 143.55,264.85 144.82,264.97 143.86,265.81 144.15,267.05 143.05,266.4 141.96,267.05 142.24,265.81 141.28,264.97 142.55,264.85" fill="#800000"/>
<polygon points="161.52,266.27 162.02,267.44 163.28,267.55 162.33,268.39 162.61,269.63 161.52,268.98 160.42,269.63 160.7,268.39 159.75,267.55 161.01,267.44" fill="#800000"/>
<polygon points="179.98,267.9 180.48,269.07 181.75,269.19 180.79,270.02 181.07,271.26 179.98,270.61 178.88,271.26 179.17,270.02 178.21,269.19 179.48,269.07" fill="#800000"/>
<polygon points="198.44,268.85 198.94,270.02 200.21,270.14 199.25,270.98 199.53,272.22 198.44,271.56 197.35,272.22 197.63,270.98 196.67,270.14 197.94,270.02" fill="#800000"/>
<polygon points="216.9,269.53 217.4,270.7 218.67,270.82 217.71,271.66 217.99,272.9 216.9,272.24 215.81,272.9 216.09,271.66 215.13,270.82 216.4,270.7" fill="#800000"/>
<path d="M41.52,227.33 L50.75,204.21 L55.36,180.27 L59.98,189.11 L64.59,198.36 L69.21,206.52 L73.82,215.09 L78.44,222.02 L83.05,229.1 L87.67,234.4 L96.9,242.56 L106.13,249.36 L124.59,256.84 L143.05,262.28 L161.52,265.95 L179.98,268.13 L198.44,269.22 L216.9,270.17" fill="none" stroke="#808000" stroke-width="0.9" stroke-linejoin="round" stroke-linecap="butt" />
<circle cx="41.52" cy="227.33" r="1.95" fill="#808000"/>
<circle cx="50.75" cy="204.21" r="1.95" fill="#808000"/>
<circle cx="55.36" cy="180.27" r="1.95" fill="#808000"/>
<circle cx="59.98" cy="189.11" r="1.95" fill="#808000"/>
<circle cx="64.59" cy="198.36" r="1.95" fill="#808000"/>
<circle cx="69.21" cy="206.52" r="1.95" fill="#808000"/>
<circle cx="73.82" cy="215.09" r="1.95" fill="#808000"/>
<circle cx="78.44" cy="222.02" r="1.95" fill="#808000"/>
<circle cx="83.05" cy="229.1" r="1.95" fill="#808000"/>
<circle cx="87.67" cy="234.4" r="1.95" fill="#808000"/>
<circle cx="96.9" cy="242.56" r="1.95" fill="#808000"/>
<circle cx="106.13" cy="249.36" r="1.95" fill="#808000"/>
<circle cx="124.59" cy="256.84" r="1.95" fill="#808000"/>
<circle cx="143.05" cy="262.28" r="1.95" fill="#808000"/>
<circle cx="161.52" cy="265.95" r="1.95" fill="#808000"/>
<circle cx="179.98" cy="268.13" r="1.95" fill="#808000"/>
<circle cx="198.44" cy="269.22" r="1.95" fill="#808000"/>
<circle cx="216.9" cy="270.17" r="1.95" fill="#808000"/>
<path d="M41.52,223.38 L50.75,196.05 L55.36,168.85 L59.98,177.01 L64.59,185.58 L69.21,194.42 L73.82,203.94 L78.44,211.55 L83.05,219.44 L87.67,225.56 L96.9,235.08 L106.13,243.65 L124.59,252.49 L143.05,258.88 L161.52,263.37 L179.98,266.09 L198.44,267.45 L216.9,268.81" fill="none" stroke="#2c5fa8" stroke-width="0.9" stroke-linejoin="round" stroke-linecap="butt" />
<polygon points="41.52,221.37 43.53,223.38 41.52,225.4 39.5,223.38" fill="#2c5fa8"/>
<polygon points="50.75,194.04 52.76,196.05 50.75,198.06 48.73,196.05" fill="#2c5fa8"/>
<polygon points="55.36,166.84 57.37,168.85 55.36,170.86 53.35,168.85" fill="#2c5fa8"/>
<polygon points="59.98,175 61.99,177.01 59.98,179.02 57.96,177.01" fill="#2c5fa8"/>
<polygon points="64.59,183.56 66.6,185.58 64.59,187.59 62.58,185.58" fill="#2c5fa8"/>
<polygon points="69.21,192.4 71.22,194.42 69.21,196.43 67.2,194.42" fill="#2c5fa8"/>
<polygon points="73.82,201.92 75.84,203.94 73.82,205.95 71.81,203.94" fill="#2c5fa8"/>
<polygon points="78.44,209.54 80.45,211.55 78.44,213.56 76.43,211.55" fill="#2c5fa8"/>
<polygon points="83.05,217.43 85.07,219.44 83.05,221.45 81.04,219.44" fill="#2c5fa8"/>
<polygon points="87.67,223.55 89.68,225.56 87.67,227.57 85.66,225.56" fill="#2c5fa8"/>
<polygon points="96.9,233.07 98.91,235.08 96.9,237.09 94.89,235.08" fill="#2c5fa8"/>
<polygon points="106.13,241.64 108.14,243.65 106.13,245.66 104.12,243.65" fill="#2c5fa8"/>
<polygon points="124.59,250.48 126.6,252.49 124.59,254.5 122.58,252.49" fill="#2c5fa8"/>
<polygon points="143.05,256.87 145.07,258.88 143.05,260.89 141.04,258.88" fill="#2c5fa8"/>
<polygon points="161.52,261.36 163.53,263.37 161.52,265.38 159.5,263.37" fill="#2c5fa8"/>
<polygon points="179.98,264.08 181.99,266.09 179.98,268.1 177.96,266.09" fill="#2c5fa8"/>
<polygon points="198.44,265.44 200.45,267.45 198.44,269.46 196.43,267.45" fill="#2c5fa8"/>
<polygon points="216.9,266.8 218.91,268.81 216.9,270.82 214.89,268.81" fill="#2c5fa8"/>
</g>
<rect x="36.9" y="152.8" width="180" height="122.4" fill="none" stroke="#000" stroke-width="1.2"/>
<line x1="78.44" y1="275.2" x2="78.44" y2="271.1" stroke="#000" stroke-width="1"/>
<line x1="124.59" y1="275.2" x2="124.59" y2="271.1" stroke="#000" stroke-width="1"/>
<line x1="170.75" y1="275.2" x2="170.75" y2="271.1" stroke="#000" stroke-width="1"/>
<line x1="216.9" y1="275.2" x2="216.9" y2="271.1" stroke="#000" stroke-width="1"/>
<line x1="55.36" y1="275.2" x2="55.36" y2="272.8" stroke="#000" stroke-width="1"/>
<line x1="101.52" y1="275.2" x2="101.52" y2="272.8" stroke="#000" stroke-width="1"/>
<line x1="147.67" y1="275.2" x2="147.67" y2="272.8" stroke="#000" stroke-width="1"/>
<line x1="193.82" y1="275.2" x2="193.82" y2="272.8" stroke="#000" stroke-width="1"/>
<text x="78.44" y="288.9" font-size="11.5" text-anchor="middle" >10</text>
<text x="124.59" y="288.9" font-size="11.5" text-anchor="middle" >20</text>
<text x="170.75" y="288.9" font-size="11.5" text-anchor="middle" >30</text>
<text x="216.9" y="288.9" font-size="11.5" text-anchor="middle" >40</text>
<line x1="36.9" y1="275.2" x2="41" y2="275.2" stroke="#000" stroke-width="1"/>
<line x1="36.9" y1="234.4" x2="41" y2="234.4" stroke="#000" stroke-width="1"/>
<line x1="36.9" y1="193.6" x2="41" y2="193.6" stroke="#000" stroke-width="1"/>
<line x1="36.9" y1="152.8" x2="41" y2="152.8" stroke="#000" stroke-width="1"/>
<line x1="36.9" y1="254.8" x2="39.3" y2="254.8" stroke="#000" stroke-width="1"/>
<line x1="36.9" y1="214" x2="39.3" y2="214" stroke="#000" stroke-width="1"/>
<line x1="36.9" y1="173.2" x2="39.3" y2="173.2" stroke="#000" stroke-width="1"/>
<text x="33" y="279" font-size="11.5" text-anchor="end" >0.0</text>
<text x="33" y="238.2" font-size="11.5" text-anchor="end" >3.0</text>
<text x="33" y="197.4" font-size="11.5" text-anchor="end" >6.0</text>
<text x="33" y="156.6" font-size="11.5" text-anchor="end" >9.0</text>
<clipPath id="cld"><rect x="246.5" y="152" width="180.2" height="123.3"/></clipPath>
<g clip-path="url(#cld)">
<path d="M251.12,274.11 L255.74,274.11 L260.36,274.35 L264.98,274.46 L269.6,274.46 L274.22,274.58 L278.84,274.58 L283.46,274.58 L288.08,274.58 L297.33,274.7 L306.57,274.7 L315.81,274.7 L334.29,274.7 L352.77,274.7 L371.25,274.7 L389.74,274.7 L408.22,274.7 L426.7,274.7" fill="none" stroke="#000000" stroke-width="0.9" stroke-linejoin="round" stroke-linecap="butt" />
<rect x="249.82" y="272.81" width="2.6" height="2.6" fill="#000000"/>
<rect x="254.44" y="272.81" width="2.6" height="2.6" fill="#000000"/>
<rect x="259.06" y="273.05" width="2.6" height="2.6" fill="#000000"/>
<rect x="263.68" y="273.16" width="2.6" height="2.6" fill="#000000"/>
<rect x="268.3" y="273.16" width="2.6" height="2.6" fill="#000000"/>
<rect x="272.92" y="273.28" width="2.6" height="2.6" fill="#000000"/>
<rect x="277.54" y="273.28" width="2.6" height="2.6" fill="#000000"/>
<rect x="282.16" y="273.28" width="2.6" height="2.6" fill="#000000"/>
<rect x="286.78" y="273.28" width="2.6" height="2.6" fill="#000000"/>
<rect x="296.03" y="273.4" width="2.6" height="2.6" fill="#000000"/>
<rect x="305.27" y="273.4" width="2.6" height="2.6" fill="#000000"/>
<rect x="314.51" y="273.4" width="2.6" height="2.6" fill="#000000"/>
<rect x="332.99" y="273.4" width="2.6" height="2.6" fill="#000000"/>
<rect x="351.47" y="273.4" width="2.6" height="2.6" fill="#000000"/>
<rect x="369.95" y="273.4" width="2.6" height="2.6" fill="#000000"/>
<rect x="388.44" y="273.4" width="2.6" height="2.6" fill="#000000"/>
<rect x="406.92" y="273.4" width="2.6" height="2.6" fill="#000000"/>
<rect x="425.4" y="273.4" width="2.6" height="2.6" fill="#000000"/>
<path d="M251.12,265.06 L255.74,262.95 L260.36,258.13 L264.98,266.24 L269.6,271.64 L274.22,273.06 L278.84,273.52 L283.46,273.88 L288.08,274.11 L297.33,274.23 L306.57,274.35 L315.81,274.46 L334.29,274.58 L352.77,274.58 L371.25,274.58 L389.74,274.58 L408.22,274.7 L426.7,274.7" fill="none" stroke="#ff0000" stroke-width="0.9" stroke-linejoin="round" stroke-linecap="butt" />
<circle cx="251.12" cy="265.06" r="1.55" fill="#ff0000"/>
<circle cx="255.74" cy="262.95" r="1.55" fill="#ff0000"/>
<circle cx="260.36" cy="258.13" r="1.55" fill="#ff0000"/>
<circle cx="264.98" cy="266.24" r="1.55" fill="#ff0000"/>
<circle cx="269.6" cy="271.64" r="1.55" fill="#ff0000"/>
<circle cx="274.22" cy="273.06" r="1.55" fill="#ff0000"/>
<circle cx="278.84" cy="273.52" r="1.55" fill="#ff0000"/>
<circle cx="283.46" cy="273.88" r="1.55" fill="#ff0000"/>
<circle cx="288.08" cy="274.11" r="1.55" fill="#ff0000"/>
<circle cx="297.33" cy="274.23" r="1.55" fill="#ff0000"/>
<circle cx="306.57" cy="274.35" r="1.55" fill="#ff0000"/>
<circle cx="315.81" cy="274.46" r="1.55" fill="#ff0000"/>
<circle cx="334.29" cy="274.58" r="1.55" fill="#ff0000"/>
<circle cx="352.77" cy="274.58" r="1.55" fill="#ff0000"/>
<circle cx="371.25" cy="274.58" r="1.55" fill="#ff0000"/>
<circle cx="389.74" cy="274.58" r="1.55" fill="#ff0000"/>
<circle cx="408.22" cy="274.7" r="1.55" fill="#ff0000"/>
<circle cx="426.7" cy="274.7" r="1.55" fill="#ff0000"/>
<path d="M251.12,267.65 L255.74,260.6 L260.36,248.85 L264.98,258.01 L269.6,265.06 L274.22,268.59 L278.84,270.24 L283.46,271.53 L288.08,272.58 L297.33,273.06 L306.57,273.52 L315.81,273.88 L334.29,274.23 L352.77,274.35 L371.25,274.46 L389.74,274.46 L408.22,274.58 L426.7,274.58" fill="none" stroke="#0000ff" stroke-width="0.9" stroke-linejoin="round" stroke-linecap="butt" />
<polygon points="251.12,265.52 253.25,269.25 248.99,269.25" fill="#0000ff"/>
<polygon points="255.74,258.47 257.87,262.2 253.61,262.2" fill="#0000ff"/>
<polygon points="260.36,246.72 262.49,250.45 258.23,250.45" fill="#0000ff"/>
<polygon points="264.98,255.89 267.11,259.61 262.85,259.61" fill="#0000ff"/>
<polygon points="269.6,262.94 271.73,266.66 267.48,266.66" fill="#0000ff"/>
<polygon points="274.22,266.46 276.35,270.19 272.1,270.19" fill="#0000ff"/>
<polygon points="278.84,268.11 280.97,271.83 276.72,271.83" fill="#0000ff"/>
<polygon points="283.46,269.4 285.59,273.12 281.34,273.12" fill="#0000ff"/>
<polygon points="288.08,270.46 290.21,274.18 285.96,274.18" fill="#0000ff"/>
<polygon points="297.33,270.93 299.45,274.65 295.2,274.65" fill="#0000ff"/>
<polygon points="306.57,271.4 308.69,275.12 304.44,275.12" fill="#0000ff"/>
<polygon points="315.81,271.75 317.94,275.47 313.68,275.47" fill="#0000ff"/>
<polygon points="334.29,272.1 336.42,275.83 332.16,275.83" fill="#0000ff"/>
<polygon points="352.77,272.22 354.9,275.94 350.64,275.94" fill="#0000ff"/>
<polygon points="371.25,272.34 373.38,276.06 369.13,276.06" fill="#0000ff"/>
<polygon points="389.74,272.34 391.86,276.06 387.61,276.06" fill="#0000ff"/>
<polygon points="408.22,272.45 410.35,276.18 406.09,276.18" fill="#0000ff"/>
<polygon points="426.7,272.45 428.83,276.18 424.57,276.18" fill="#0000ff"/>
<path d="M251.12,259.19 L255.74,251.44 L260.36,250.85 L264.98,253.31 L269.6,259.78 L274.22,263.89 L278.84,266.47 L283.46,267.88 L288.08,269.06 L297.33,270.59 L306.57,272 L315.81,272.58 L334.29,273.52 L352.77,273.88 L371.25,274.11 L389.74,274.23 L408.22,274.35 L426.7,274.46" fill="none" stroke="#ff00ff" stroke-width="0.9" stroke-linejoin="round" stroke-linecap="butt" />
<polygon points="251.12,261.32 253.25,257.59 248.99,257.59" fill="#ff00ff"/>
<polygon points="255.74,253.56 257.87,249.84 253.61,249.84" fill="#ff00ff"/>
<polygon points="260.36,252.97 262.49,249.25 258.23,249.25" fill="#ff00ff"/>
<polygon points="264.98,255.44 267.11,251.72 262.85,251.72" fill="#ff00ff"/>
<polygon points="269.6,261.9 271.73,258.18 267.48,258.18" fill="#ff00ff"/>
<polygon points="274.22,266.02 276.35,262.29 272.1,262.29" fill="#ff00ff"/>
<polygon points="278.84,268.6 280.97,264.88 276.72,264.88" fill="#ff00ff"/>
<polygon points="283.46,270.01 285.59,266.29 281.34,266.29" fill="#ff00ff"/>
<polygon points="288.08,271.19 290.21,267.46 285.96,267.46" fill="#ff00ff"/>
<polygon points="297.33,272.71 299.45,268.99 295.2,268.99" fill="#ff00ff"/>
<polygon points="306.57,274.12 308.69,270.4 304.44,270.4" fill="#ff00ff"/>
<polygon points="315.81,274.71 317.94,270.99 313.68,270.99" fill="#ff00ff"/>
<polygon points="334.29,275.65 336.42,271.93 332.16,271.93" fill="#ff00ff"/>
<polygon points="352.77,276 354.9,272.28 350.64,272.28" fill="#ff00ff"/>
<polygon points="371.25,276.24 373.38,272.52 369.13,272.52" fill="#ff00ff"/>
<polygon points="389.74,276.36 391.86,272.63 387.61,272.63" fill="#ff00ff"/>
<polygon points="408.22,276.47 410.35,272.75 406.09,272.75" fill="#ff00ff"/>
<polygon points="426.7,276.59 428.83,272.87 424.57,272.87" fill="#ff00ff"/>
<path d="M251.12,262.71 L255.74,253.43 L260.36,244.74 L264.98,249.67 L269.6,254.49 L274.22,258.01 L278.84,260.6 L283.46,262.48 L288.08,264.71 L297.33,266.47 L306.57,267.88 L315.81,269.53 L334.29,270.82 L352.77,272 L371.25,272.94 L389.74,273.52 L408.22,273.76 L426.7,274" fill="none" stroke="#008000" stroke-width="0.9" stroke-linejoin="round" stroke-linecap="butt" />
<polygon points="251.12,260.47 253.36,262.71 251.12,264.96 248.88,262.71" fill="#008000"/>
<polygon points="255.74,251.19 257.98,253.43 255.74,255.68 253.5,253.43" fill="#008000"/>
<polygon points="260.36,242.49 262.6,244.74 260.36,246.98 258.12,244.74" fill="#008000"/>
<polygon points="264.98,247.43 267.22,249.67 264.98,251.91 262.74,249.67" fill="#008000"/>
<polygon points="269.6,252.25 271.85,254.49 269.6,256.73 267.36,254.49" fill="#008000"/>
<polygon points="274.22,255.77 276.47,258.01 274.22,260.26 271.98,258.01" fill="#008000"/>
<polygon points="278.84,258.36 281.09,260.6 278.84,262.84 276.6,260.6" fill="#008000"/>
<polygon points="283.46,260.24 285.71,262.48 283.46,264.72 281.22,262.48" fill="#008000"/>
<polygon points="288.08,262.47 290.33,264.71 288.08,266.95 285.84,264.71" fill="#008000"/>
<polygon points="297.33,264.23 299.57,266.47 297.33,268.72 295.08,266.47" fill="#008000"/>
<polygon points="306.57,265.64 308.81,267.88 306.57,270.13 304.32,267.88" fill="#008000"/>
<polygon points="315.81,267.29 318.05,269.53 315.81,271.77 313.57,269.53" fill="#008000"/>
<polygon points="334.29,268.58 336.53,270.82 334.29,273.06 332.05,270.82" fill="#008000"/>
<polygon points="352.77,269.75 355.01,272 352.77,274.24 350.53,272" fill="#008000"/>
<polygon points="371.25,270.69 373.5,272.94 371.25,275.18 369.01,272.94" fill="#008000"/>
<polygon points="389.74,271.28 391.98,273.52 389.74,275.77 387.49,273.52" fill="#008000"/>
<polygon points="408.22,271.52 410.46,273.76 408.22,276 405.98,273.76" fill="#008000"/>
<polygon points="426.7,271.75 428.94,274 426.7,276.24 424.46,274" fill="#008000"/>
<path d="M251.12,270.82 L255.74,259.43 L260.36,247.56 L264.98,250.26 L269.6,250.85 L274.22,252.02 L278.84,254.14 L283.46,256.49 L288.08,258.72 L297.33,262.25 L306.57,264.71 L315.81,266.94 L334.29,269.53 L352.77,270.47 L371.25,271.76 L389.74,272.58 L408.22,273.17 L426.7,273.52" fill="none" stroke="#000080" stroke-width="0.9" stroke-linejoin="round" stroke-linecap="butt" />
<polygon points="248.99,270.82 252.72,268.69 252.72,272.95" fill="#000080"/>
<polygon points="253.61,259.43 257.34,257.3 257.34,261.55" fill="#000080"/>
<polygon points="258.23,247.56 261.96,245.43 261.96,249.69" fill="#000080"/>
<polygon points="262.85,250.26 266.58,248.13 266.58,252.39" fill="#000080"/>
<polygon points="267.48,250.85 271.2,248.72 271.2,252.97" fill="#000080"/>
<polygon points="272.1,252.02 275.82,249.89 275.82,254.15" fill="#000080"/>
<polygon points="276.72,254.14 280.44,252.01 280.44,256.26" fill="#000080"/>
<polygon points="281.34,256.49 285.06,254.36 285.06,258.62" fill="#000080"/>
<polygon points="285.96,258.72 289.68,256.59 289.68,260.85" fill="#000080"/>
<polygon points="295.2,262.25 298.92,260.12 298.92,264.37" fill="#000080"/>
<polygon points="304.44,264.71 308.16,262.58 308.16,266.84" fill="#000080"/>
<polygon points="313.68,266.94 317.4,264.82 317.4,269.07" fill="#000080"/>
<polygon points="332.16,269.53 335.89,267.4 335.89,271.66" fill="#000080"/>
<polygon points="350.64,270.47 354.37,268.34 354.37,272.6" fill="#000080"/>
<polygon points="369.13,271.76 372.85,269.63 372.85,273.89" fill="#000080"/>
<polygon points="387.61,272.58 391.33,270.46 391.33,274.71" fill="#000080"/>
<polygon points="406.09,273.17 409.81,271.05 409.81,275.3" fill="#000080"/>
<polygon points="424.57,273.52 428.3,271.4 428.3,275.65" fill="#000080"/>
<path d="M251.12,279.4 L255.74,268 L260.36,250.96 L264.98,245.56 L269.6,245.32 L274.22,245.79 L278.84,247.44 L283.46,249.32 L288.08,252.84 L297.33,257.07 L306.57,260.48 L315.81,264.01 L334.29,266.83 L352.77,268.47 L371.25,270.47 L389.74,271.53 L408.22,272.35 L426.7,272.82" fill="none" stroke="#8000ff" stroke-width="0.9" stroke-linejoin="round" stroke-linecap="butt" />
<polygon points="253.25,279.4 249.52,277.27 249.52,281.53" fill="#8000ff"/>
<polygon points="257.87,268 254.15,265.88 254.15,270.13" fill="#8000ff"/>
<polygon points="262.49,250.96 258.77,248.84 258.77,253.09" fill="#8000ff"/>
<polygon points="267.11,245.56 263.39,243.43 263.39,247.69" fill="#8000ff"/>
<polygon points="271.73,245.32 268.01,243.2 268.01,247.45" fill="#8000ff"/>
<polygon points="276.35,245.79 272.63,243.67 272.63,247.92" fill="#8000ff"/>
<polygon points="280.97,247.44 277.25,245.31 277.25,249.57" fill="#8000ff"/>
<polygon points="285.59,249.32 281.87,247.19 281.87,251.45" fill="#8000ff"/>
<polygon points="290.21,252.84 286.49,250.72 286.49,254.97" fill="#8000ff"/>
<polygon points="299.45,257.07 295.73,254.95 295.73,259.2" fill="#8000ff"/>
<polygon points="308.69,260.48 304.97,258.36 304.97,262.61" fill="#8000ff"/>
<polygon points="317.94,264.01 314.21,261.88 314.21,266.13" fill="#8000ff"/>
<polygon points="336.42,266.83 332.69,264.7 332.69,268.95" fill="#8000ff"/>
<polygon points="354.9,268.47 351.18,266.34 351.18,270.6" fill="#8000ff"/>
<polygon points="373.38,270.47 369.66,268.34 369.66,272.6" fill="#8000ff"/>
<polygon points="391.86,271.53 388.14,269.4 388.14,273.65" fill="#8000ff"/>
<polygon points="410.35,272.35 406.62,270.22 406.62,274.48" fill="#8000ff"/>
<polygon points="428.83,272.82 425.1,270.69 425.1,274.95" fill="#8000ff"/>
<path d="M251.12,234.28 L255.74,221.24 L260.36,221.24 L264.98,237.22 L269.6,238.27 L274.22,237.57 L278.84,239.1 L283.46,241.68 L288.08,245.21 L297.33,250.14 L306.57,254.72 L315.81,259.54 L334.29,264.01 L352.77,266.59 L371.25,268.94 L389.74,270.35 L408.22,271.41 L426.7,272" fill="none" stroke="#800080" stroke-width="0.9" stroke-linejoin="round" stroke-linecap="butt" />
<polygon points="253.17,234.28 252.15,236.06 250.09,236.06 249.07,234.28 250.09,232.5 252.15,232.5" fill="#800080"/>
<polygon points="257.79,221.24 256.77,223.01 254.72,223.01 253.69,221.24 254.72,219.46 256.77,219.46" fill="#800080"/>
<polygon points="262.41,221.24 261.39,223.01 259.34,223.01 258.31,221.24 259.34,219.46 261.39,219.46" fill="#800080"/>
<polygon points="267.03,237.22 266.01,238.99 263.96,238.99 262.93,237.22 263.96,235.44 266.01,235.44" fill="#800080"/>
<polygon points="271.65,238.27 270.63,240.05 268.58,240.05 267.55,238.27 268.58,236.5 270.63,236.5" fill="#800080"/>
<polygon points="276.28,237.57 275.25,239.35 273.2,239.35 272.17,237.57 273.2,235.79 275.25,235.79" fill="#800080"/>
<polygon points="280.9,239.1 279.87,240.87 277.82,240.87 276.79,239.1 277.82,237.32 279.87,237.32" fill="#800080"/>
<polygon points="285.52,241.68 284.49,243.46 282.44,243.46 281.41,241.68 282.44,239.91 284.49,239.91" fill="#800080"/>
<polygon points="290.14,245.21 289.11,246.98 287.06,246.98 286.03,245.21 287.06,243.43 289.11,243.43" fill="#800080"/>
<polygon points="299.38,250.14 298.35,251.92 296.3,251.92 295.27,250.14 296.3,248.37 298.35,248.37" fill="#800080"/>
<polygon points="308.62,254.72 307.59,256.5 305.54,256.5 304.51,254.72 305.54,252.95 307.59,252.95" fill="#800080"/>
<polygon points="317.86,259.54 316.83,261.32 314.78,261.32 313.76,259.54 314.78,257.77 316.83,257.77" fill="#800080"/>
<polygon points="336.34,264.01 335.32,265.78 333.26,265.78 332.24,264.01 333.26,262.23 335.32,262.23" fill="#800080"/>
<polygon points="354.82,266.59 353.8,268.37 351.75,268.37 350.72,266.59 351.75,264.82 353.8,264.82" fill="#800080"/>
<polygon points="373.31,268.94 372.28,270.72 370.23,270.72 369.2,268.94 370.23,267.17 372.28,267.17" fill="#800080"/>
<polygon points="391.79,270.35 390.76,272.13 388.71,272.13 387.68,270.35 388.71,268.58 390.76,268.58" fill="#800080"/>
<polygon points="410.27,271.41 409.24,273.19 407.19,273.19 406.17,271.41 407.19,269.63 409.24,269.63" fill="#800080"/>
<polygon points="428.75,272 427.73,273.77 425.67,273.77 424.65,272 425.67,270.22 427.73,270.22" fill="#800080"/>
<path d="M251.12,228.17 L255.74,213.01 L260.36,195.27 L264.98,197.62 L269.6,211.72 L274.22,222.76 L278.84,226.29 L283.46,230.05 L288.08,234.51 L297.33,242.03 L306.57,248.5 L315.81,254.25 L334.29,260.48 L352.77,264.24 L371.25,267.18 L389.74,269.06 L408.22,270.47 L426.7,271.18" fill="none" stroke="#800000" stroke-width="0.9" stroke-linejoin="round" stroke-linecap="butt" />
<polygon points="251.12,226.31 251.62,227.48 252.89,227.6 251.93,228.43 252.21,229.67 251.12,229.02 250.03,229.67 250.31,228.43 249.35,227.6 250.62,227.48" fill="#800000"/>
<polygon points="255.74,211.15 256.24,212.32 257.51,212.44 256.55,213.28 256.83,214.52 255.74,213.86 254.65,214.52 254.93,213.28 253.97,212.44 255.24,212.32" fill="#800000"/>
<polygon points="260.36,193.41 260.86,194.58 262.13,194.7 261.17,195.53 261.45,196.77 260.36,196.12 259.27,196.77 259.55,195.53 258.59,194.7 259.86,194.58" fill="#800000"/>
<polygon points="264.98,195.76 265.48,196.93 266.75,197.05 265.79,197.88 266.08,199.12 264.98,198.47 263.89,199.12 264.17,197.88 263.21,197.05 264.48,196.93" fill="#800000"/>
<polygon points="269.6,209.86 270.1,211.03 271.37,211.15 270.41,211.98 270.7,213.22 269.6,212.57 268.51,213.22 268.79,211.98 267.83,211.15 269.1,211.03" fill="#800000"/>
<polygon points="274.22,220.9 274.72,222.08 275.99,222.19 275.03,223.03 275.32,224.27 274.22,223.62 273.13,224.27 273.41,223.03 272.45,222.19 273.72,222.08" fill="#800000"/>
<polygon points="278.84,224.43 279.34,225.6 280.61,225.72 279.65,226.55 279.94,227.79 278.84,227.14 277.75,227.79 278.03,226.55 277.07,225.72 278.34,225.6" fill="#800000"/>
<polygon points="283.46,228.19 283.97,229.36 285.23,229.48 284.27,230.31 284.56,231.55 283.46,230.9 282.37,231.55 282.65,230.31 281.7,229.48 282.96,229.36" fill="#800000"/>
<polygon points="288.08,232.65 288.59,233.83 289.85,233.94 288.9,234.78 289.18,236.02 288.08,235.37 286.99,236.02 287.27,234.78 286.32,233.94 287.58,233.83" fill="#800000"/>
<polygon points="297.33,240.17 297.83,241.35 299.09,241.46 298.14,242.3 298.42,243.54 297.33,242.89 296.23,243.54 296.51,242.3 295.56,241.46 296.82,241.35" fill="#800000"/>
<polygon points="306.57,246.64 307.07,247.81 308.34,247.92 307.38,248.76 307.66,250 306.57,249.35 305.47,250 305.76,248.76 304.8,247.92 306.07,247.81" fill="#800000"/>
<polygon points="315.81,252.39 316.31,253.57 317.58,253.68 316.62,254.52 316.9,255.76 315.81,255.11 314.71,255.76 315,254.52 314.04,253.68 315.31,253.57" fill="#800000"/>
<polygon points="334.29,258.62 334.79,259.79 336.06,259.91 335.1,260.75 335.38,261.99 334.29,261.34 333.2,261.99 333.48,260.75 332.52,259.91 333.79,259.79" fill="#800000"/>
<polygon points="352.77,262.38 353.27,263.55 354.54,263.67 353.58,264.51 353.87,265.75 352.77,265.1 351.68,265.75 351.96,264.51 351,263.67 352.27,263.55" fill="#800000"/>
<polygon points="371.25,265.32 371.75,266.49 373.02,266.61 372.06,267.44 372.35,268.68 371.25,268.03 370.16,268.68 370.44,267.44 369.48,266.61 370.75,266.49" fill="#800000"/>
<polygon points="389.74,267.2 390.24,268.37 391.5,268.49 390.55,269.32 390.83,270.56 389.74,269.91 388.64,270.56 388.93,269.32 387.97,268.49 389.23,268.37" fill="#800000"/>
<polygon points="408.22,268.61 408.72,269.78 409.99,269.9 409.03,270.73 409.31,271.97 408.22,271.32 407.12,271.97 407.41,270.73 406.45,269.9 407.72,269.78" fill="#800000"/>
<polygon points="426.7,269.31 427.2,270.49 428.47,270.6 427.51,271.44 427.79,272.68 426.7,272.03 425.61,272.68 425.89,271.44 424.93,270.6 426.2,270.49" fill="#800000"/>
<path d="M251.12,224.76 L255.74,207.37 L260.36,187.4 L264.98,184.22 L269.6,188.1 L274.22,199.26 L278.84,211.6 L283.46,218.65 L288.08,224.76 L297.33,233.69 L306.57,241.8 L315.81,249.44 L334.29,256.72 L352.77,261.77 L371.25,265.3 L389.74,267.65 L408.22,269.53 L426.7,270.47" fill="none" stroke="#808000" stroke-width="0.9" stroke-linejoin="round" stroke-linecap="butt" />
<circle cx="251.12" cy="224.76" r="1.95" fill="#808000"/>
<circle cx="255.74" cy="207.37" r="1.95" fill="#808000"/>
<circle cx="260.36" cy="187.4" r="1.95" fill="#808000"/>
<circle cx="264.98" cy="184.22" r="1.95" fill="#808000"/>
<circle cx="269.6" cy="188.1" r="1.95" fill="#808000"/>
<circle cx="274.22" cy="199.26" r="1.95" fill="#808000"/>
<circle cx="278.84" cy="211.6" r="1.95" fill="#808000"/>
<circle cx="283.46" cy="218.65" r="1.95" fill="#808000"/>
<circle cx="288.08" cy="224.76" r="1.95" fill="#808000"/>
<circle cx="297.33" cy="233.69" r="1.95" fill="#808000"/>
<circle cx="306.57" cy="241.8" r="1.95" fill="#808000"/>
<circle cx="315.81" cy="249.44" r="1.95" fill="#808000"/>
<circle cx="334.29" cy="256.72" r="1.95" fill="#808000"/>
<circle cx="352.77" cy="261.77" r="1.95" fill="#808000"/>
<circle cx="371.25" cy="265.3" r="1.95" fill="#808000"/>
<circle cx="389.74" cy="267.65" r="1.95" fill="#808000"/>
<circle cx="408.22" cy="269.53" r="1.95" fill="#808000"/>
<circle cx="426.7" cy="270.47" r="1.95" fill="#808000"/>
<path d="M251.12,222.53 L255.74,203.5 L260.36,179.52 L264.98,174.36 L269.6,175.53 L274.22,179.88 L278.84,190.33 L283.46,202.56 L288.08,212.42 L297.33,224.76 L306.57,234.63 L315.81,243.09 L334.29,252.61 L352.77,258.49 L371.25,262.71 L389.74,265.53 L408.22,267.77 L426.7,268.94" fill="none" stroke="#2c5fa8" stroke-width="0.9" stroke-linejoin="round" stroke-linecap="butt" />
<polygon points="251.12,220.52 253.13,222.53 251.12,224.54 249.11,222.53" fill="#2c5fa8"/>
<polygon points="255.74,201.48 257.75,203.5 255.74,205.51 253.73,203.5" fill="#2c5fa8"/>
<polygon points="260.36,177.51 262.37,179.52 260.36,181.54 258.35,179.52" fill="#2c5fa8"/>
<polygon points="264.98,172.34 266.99,174.36 264.98,176.37 262.97,174.36" fill="#2c5fa8"/>
<polygon points="269.6,173.52 271.62,175.53 269.6,177.54 267.59,175.53" fill="#2c5fa8"/>
<polygon points="274.22,177.87 276.24,179.88 274.22,181.89 272.21,179.88" fill="#2c5fa8"/>
<polygon points="278.84,188.32 280.86,190.33 278.84,192.35 276.83,190.33" fill="#2c5fa8"/>
<polygon points="283.46,200.54 285.48,202.56 283.46,204.57 281.45,202.56" fill="#2c5fa8"/>
<polygon points="288.08,210.41 290.1,212.42 288.08,214.44 286.07,212.42" fill="#2c5fa8"/>
<polygon points="297.33,222.75 299.34,224.76 297.33,226.77 295.31,224.76" fill="#2c5fa8"/>
<polygon points="306.57,232.62 308.58,234.63 306.57,236.64 304.55,234.63" fill="#2c5fa8"/>
<polygon points="315.81,241.08 317.82,243.09 315.81,245.1 313.8,243.09" fill="#2c5fa8"/>
<polygon points="334.29,250.6 336.3,252.61 334.29,254.62 332.28,252.61" fill="#2c5fa8"/>
<polygon points="352.77,256.47 354.78,258.49 352.77,260.5 350.76,258.49" fill="#2c5fa8"/>
<polygon points="371.25,260.7 373.27,262.71 371.25,264.73 369.24,262.71" fill="#2c5fa8"/>
<polygon points="389.74,263.52 391.75,265.53 389.74,267.55 387.72,265.53" fill="#2c5fa8"/>
<polygon points="408.22,265.75 410.23,267.77 408.22,269.78 406.21,267.77" fill="#2c5fa8"/>
<polygon points="426.7,266.93 428.71,268.94 426.7,270.95 424.69,268.94" fill="#2c5fa8"/>
</g>
<line x1="334.4" y1="161.5" x2="352.9" y2="161.5" stroke="#000000" stroke-width="1" stroke-opacity="0.8"/>
<rect x="342.53" y="160.43" width="2.13" height="2.13" fill="#000000"/>
<text x="354.6" y="164.5" font-size="8.1" style="stroke-width:0.08px">1kOe</text>
<line x1="334.4" y1="171.5" x2="352.9" y2="171.5" stroke="#ff0000" stroke-width="1" stroke-opacity="0.8"/>
<circle cx="343.6" cy="171.5" r="1.27" fill="#ff0000"/>
<text x="354.6" y="174.98" font-size="8.1" style="stroke-width:0.08px">5kOe</text>
<line x1="334.4" y1="182.5" x2="352.9" y2="182.5" stroke="#0000ff" stroke-width="1" stroke-opacity="0.8"/>
<polygon points="343.6,180.76 345.34,183.81 341.86,183.81" fill="#0000ff"/>
<text x="354.6" y="185.46" font-size="8.1" style="stroke-width:0.08px">10kOe</text>
<line x1="334.4" y1="192.5" x2="352.9" y2="192.5" stroke="#ff00ff" stroke-width="1" stroke-opacity="0.8"/>
<polygon points="343.6,194.24 345.34,191.19 341.86,191.19" fill="#ff00ff"/>
<text x="354.6" y="195.94" font-size="8.1" style="stroke-width:0.08px">15kOe</text>
<line x1="381.7" y1="161.5" x2="400.4" y2="161.5" stroke="#008000" stroke-width="1" stroke-opacity="0.8"/>
<polygon points="391,159.66 392.84,161.5 391,163.34 389.16,161.5" fill="#008000"/>
<text x="401.5" y="164.5" font-size="8.1" style="stroke-width:0.08px">20kOe</text>
<line x1="381.7" y1="171.5" x2="400.4" y2="171.5" stroke="#000080" stroke-width="1" stroke-opacity="0.8"/>
<polygon points="389.26,171.5 392.31,169.76 392.31,173.24" fill="#000080"/>
<text x="401.5" y="174.98" font-size="8.1" style="stroke-width:0.08px">25kOe</text>
<line x1="381.7" y1="182.5" x2="400.4" y2="182.5" stroke="#8000ff" stroke-width="1" stroke-opacity="0.8"/>
<polygon points="392.74,182.5 389.69,180.76 389.69,184.24" fill="#8000ff"/>
<text x="401.5" y="185.46" font-size="8.1" style="stroke-width:0.08px">30kOe</text>
<line x1="381.7" y1="192.5" x2="400.4" y2="192.5" stroke="#800080" stroke-width="1" stroke-opacity="0.8"/>
<polygon points="392.68,192.5 391.84,193.96 390.16,193.96 389.32,192.5 390.16,191.04 391.84,191.04" fill="#800080"/>
<text x="401.5" y="195.94" font-size="8.1" style="stroke-width:0.08px">35kOe</text>
<line x1="381.7" y1="203.5" x2="400.4" y2="203.5" stroke="#800000" stroke-width="1" stroke-opacity="0.8"/>
<polygon points="391,201.97 391.41,202.93 392.45,203.03 391.66,203.72 391.9,204.73 391,204.2 390.1,204.73 390.34,203.72 389.55,203.03 390.59,202.93" fill="#800000"/>
<text x="401.5" y="206.42" font-size="8.1" style="stroke-width:0.08px">40kOe</text>
<line x1="381.7" y1="213.5" x2="400.4" y2="213.5" stroke="#808000" stroke-width="1" stroke-opacity="0.8"/>
<circle cx="391" cy="213.5" r="1.6" fill="#808000"/>
<text x="401.5" y="216.9" font-size="8.1" style="stroke-width:0.08px">45kOe</text>
<line x1="381.7" y1="224.5" x2="400.4" y2="224.5" stroke="#2c5fa8" stroke-width="1" stroke-opacity="0.8"/>
<polygon points="391,222.85 392.65,224.5 391,226.15 389.35,224.5" fill="#2c5fa8"/>
<text x="401.5" y="227.38" font-size="8.1" style="stroke-width:0.08px">50kOe</text>
<rect x="246.5" y="152" width="180.2" height="122.7" fill="none" stroke="#000" stroke-width="1.2"/>
<line x1="288.08" y1="274.7" x2="288.08" y2="270.6" stroke="#000" stroke-width="1"/>
<line x1="334.29" y1="274.7" x2="334.29" y2="270.6" stroke="#000" stroke-width="1"/>
<line x1="380.49" y1="274.7" x2="380.49" y2="270.6" stroke="#000" stroke-width="1"/>
<line x1="426.7" y1="274.7" x2="426.7" y2="270.6" stroke="#000" stroke-width="1"/>
<line x1="264.98" y1="274.7" x2="264.98" y2="272.3" stroke="#000" stroke-width="1"/>
<line x1="311.19" y1="274.7" x2="311.19" y2="272.3" stroke="#000" stroke-width="1"/>
<line x1="357.39" y1="274.7" x2="357.39" y2="272.3" stroke="#000" stroke-width="1"/>
<line x1="403.6" y1="274.7" x2="403.6" y2="272.3" stroke="#000" stroke-width="1"/>
<text x="288.08" y="288.9" font-size="11.5" text-anchor="middle" >10</text>
<text x="334.29" y="288.9" font-size="11.5" text-anchor="middle" >20</text>
<text x="380.49" y="288.9" font-size="11.5" text-anchor="middle" >30</text>
<text x="426.7" y="288.9" font-size="11.5" text-anchor="middle" >40</text>
<line x1="246.5" y1="274.7" x2="250.6" y2="274.7" stroke="#000" stroke-width="1"/>
<line x1="246.5" y1="239.45" x2="250.6" y2="239.45" stroke="#000" stroke-width="1"/>
<line x1="246.5" y1="204.2" x2="250.6" y2="204.2" stroke="#000" stroke-width="1"/>
<line x1="246.5" y1="168.95" x2="250.6" y2="168.95" stroke="#000" stroke-width="1"/>
<line x1="246.5" y1="257.07" x2="248.9" y2="257.07" stroke="#000" stroke-width="1"/>
<line x1="246.5" y1="221.82" x2="248.9" y2="221.82" stroke="#000" stroke-width="1"/>
<line x1="246.5" y1="186.57" x2="248.9" y2="186.57" stroke="#000" stroke-width="1"/>
<text x="242.5" y="278.5" font-size="11.5" text-anchor="end" >0.0</text>
<text x="242.5" y="243.25" font-size="11.5" text-anchor="end" >3.0</text>
<text x="242.5" y="208" font-size="11.5" text-anchor="end" >6.0</text>
<text x="242.5" y="172.75" font-size="11.5" text-anchor="end" >9.0</text>
<text x="46.4" y="13.6" font-size="12.5" text-anchor="middle" >(a)</text>
<text x="258.4" y="13.9" font-size="12.5" text-anchor="middle" >(b)</text>
<text x="46.7" y="165.4" font-size="12.5" text-anchor="middle" >(c)</text>
<text x="256.4" y="165.6" font-size="12.5" text-anchor="middle" >(d)</text>
<text x="129" y="146" font-size="13.3" text-anchor="middle"><tspan font-style="italic">H</tspan> (kOe)</text>
<text x="338.5" y="146" font-size="13.3" text-anchor="middle"><tspan font-style="italic">H</tspan> (kOe)</text>
<text x="126.7" y="301.3" font-size="13.3" text-anchor="middle"><tspan font-style="italic">T</tspan> (K)</text>
<text x="335.4" y="301.1" font-size="13.3" text-anchor="middle"><tspan font-style="italic">T</tspan> (K)</text>
<text transform="translate(16.8,59.4) rotate(-90)" font-size="13" text-anchor="middle"><tspan font-style="italic">M</tspan> (emu/g)</text>
<text transform="translate(11.4,212.4) rotate(-90)" font-size="13.1" text-anchor="middle">-&#916;<tspan font-style="italic">S</tspan><tspan font-size="8" dy="2.5">M</tspan><tspan dy="-2.5"> (J/kg K)</tspan></text>
<text x="199.5" y="27.8" font-size="10.5" text-anchor="middle" >2 K</text>
<text x="200" y="77" font-size="10.5" text-anchor="middle" >38K</text>
<line x1="200.6" y1="33" x2="200.6" y2="55" stroke="#000" stroke-width="1"/>
<path d="M198.6,54 L202.6,54 L200.6,61.6 Z" fill="#000"/>
<text x="201.5" y="110.8" font-size="11" text-anchor="middle"><tspan font-style="italic">H</tspan>//ab</text>
<text x="410.5" y="25.6" font-size="10.5" text-anchor="middle" >2 K</text>
<text x="411.3" y="74.3" font-size="10.5" text-anchor="middle" >38K</text>
<line x1="411.8" y1="31.8" x2="411.8" y2="54" stroke="#000" stroke-width="1"/>
<path d="M409.8,53 L413.8,53 L411.8,61 Z" fill="#000"/>
<text x="411" y="110.3" font-size="11" text-anchor="middle"><tspan font-style="italic">H</tspan>//c</text>
<text x="202.5" y="259" font-size="11" text-anchor="middle"><tspan font-style="italic">H</tspan>//ab</text>
<text x="412.6" y="259.2" font-size="11" text-anchor="middle"><tspan font-style="italic">H</tspan>//c</text>
</svg>
</body></html>
